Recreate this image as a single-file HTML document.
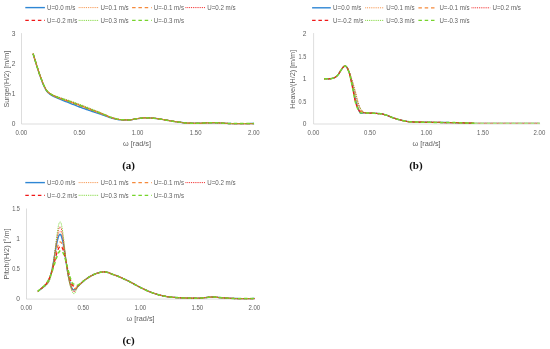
<!DOCTYPE html>
<html><head><meta charset="utf-8"><title>RAO figure</title>
<style>html,body{margin:0;padding:0;background:#fff}svg{display:block}</style></head>
<body>
<svg width="550" height="349" viewBox="0 0 550 349">
<rect width="550" height="349" fill="#fff"/>
<path d="M21.50,33.10V124.00H254.50" fill="none" stroke="#d4d4d4" stroke-width="0.8"/>
<text x="15.30" y="126.30" font-size="6.6" text-anchor="end" fill="#5e5e5e" font-family='"Liberation Sans", sans-serif'>0</text>
<text x="15.30" y="96.17" font-size="6.6" text-anchor="end" fill="#5e5e5e" font-family='"Liberation Sans", sans-serif'>1</text>
<text x="15.30" y="66.03" font-size="6.6" text-anchor="end" fill="#5e5e5e" font-family='"Liberation Sans", sans-serif'>2</text>
<text x="15.30" y="35.90" font-size="6.6" text-anchor="end" fill="#5e5e5e" font-family='"Liberation Sans", sans-serif'>3</text>
<text x="21.30" y="134.65" font-size="6.6" text-anchor="middle" fill="#5e5e5e" font-family='"Liberation Sans", sans-serif' textLength="11.7" lengthAdjust="spacingAndGlyphs">0.00</text>
<text x="79.42" y="134.65" font-size="6.6" text-anchor="middle" fill="#5e5e5e" font-family='"Liberation Sans", sans-serif' textLength="11.7" lengthAdjust="spacingAndGlyphs">0.50</text>
<text x="137.55" y="134.65" font-size="6.6" text-anchor="middle" fill="#5e5e5e" font-family='"Liberation Sans", sans-serif' textLength="11.7" lengthAdjust="spacingAndGlyphs">1.00</text>
<text x="195.68" y="134.65" font-size="6.6" text-anchor="middle" fill="#5e5e5e" font-family='"Liberation Sans", sans-serif' textLength="11.7" lengthAdjust="spacingAndGlyphs">1.50</text>
<text x="253.80" y="134.65" font-size="6.6" text-anchor="middle" fill="#5e5e5e" font-family='"Liberation Sans", sans-serif' textLength="11.7" lengthAdjust="spacingAndGlyphs">2.00</text>
<text x="137.00" y="146.30" font-size="6.9" text-anchor="middle" fill="#5e5e5e" font-family='"Liberation Sans", sans-serif' textLength="28.0" lengthAdjust="spacingAndGlyphs">ω [rad/s]</text>
<text transform="translate(8.80,79.10) rotate(-90)" font-size="6.9" text-anchor="middle" fill="#5e5e5e" font-family='"Liberation Sans", sans-serif' textLength="56.6" lengthAdjust="spacingAndGlyphs">Surge/(H/2) [m/m]</text>
<line x1="25.30" y1="7.60" x2="44.90" y2="7.60" stroke="#2e86d4" stroke-width="1.4"/>
<text x="47.00" y="10.05" font-size="6.9" text-anchor="start" fill="#5e5e5e" font-family='"Liberation Sans", sans-serif' textLength="28.3" lengthAdjust="spacingAndGlyphs">U=0.0 m/s</text>
<line x1="78.70" y1="7.60" x2="98.30" y2="7.60" stroke="#f58a3c" stroke-width="1.0" stroke-dasharray="0.9,0.95"/>
<text x="100.40" y="10.05" font-size="6.9" text-anchor="start" fill="#5e5e5e" font-family='"Liberation Sans", sans-serif' textLength="28.3" lengthAdjust="spacingAndGlyphs">U=0.1 m/s</text>
<line x1="132.10" y1="7.60" x2="151.70" y2="7.60" stroke="#f58a3c" stroke-width="1.15" stroke-dasharray="3.5,2.8"/>
<text x="153.80" y="10.05" font-size="6.9" text-anchor="start" fill="#5e5e5e" font-family='"Liberation Sans", sans-serif' textLength="30.2" lengthAdjust="spacingAndGlyphs">U=-0.1 m/s</text>
<line x1="185.50" y1="7.60" x2="205.10" y2="7.60" stroke="#f01818" stroke-width="1.0" stroke-dasharray="0.9,0.95"/>
<text x="207.20" y="10.05" font-size="6.9" text-anchor="start" fill="#5e5e5e" font-family='"Liberation Sans", sans-serif' textLength="28.3" lengthAdjust="spacingAndGlyphs">U=0.2 m/s</text>
<line x1="25.30" y1="20.40" x2="44.90" y2="20.40" stroke="#f01818" stroke-width="1.15" stroke-dasharray="3.5,2.8"/>
<text x="47.00" y="22.85" font-size="6.9" text-anchor="start" fill="#5e5e5e" font-family='"Liberation Sans", sans-serif' textLength="30.2" lengthAdjust="spacingAndGlyphs">U=-0.2 m/s</text>
<line x1="78.70" y1="20.40" x2="98.30" y2="20.40" stroke="#76d42c" stroke-width="1.0" stroke-dasharray="0.9,0.95"/>
<text x="100.40" y="22.85" font-size="6.9" text-anchor="start" fill="#5e5e5e" font-family='"Liberation Sans", sans-serif' textLength="28.3" lengthAdjust="spacingAndGlyphs">U=0.3 m/s</text>
<line x1="132.10" y1="20.40" x2="151.70" y2="20.40" stroke="#76d42c" stroke-width="1.15" stroke-dasharray="3.5,2.8"/>
<text x="153.80" y="22.85" font-size="6.9" text-anchor="start" fill="#5e5e5e" font-family='"Liberation Sans", sans-serif' textLength="30.2" lengthAdjust="spacingAndGlyphs">U=-0.3 m/s</text>
<path d="M33.1,53.9L34.3,57.8 35.5,61.7 36.6,65.4 37.8,69.1 38.9,72.6 40.1,76.0 41.3,79.3 42.4,82.4 43.6,85.2 44.8,87.6 45.9,89.9 47.1,91.6 48.2,92.8 49.4,93.8 50.6,94.6 51.7,95.4 52.9,96.0 54.0,96.6 55.2,97.2 56.4,97.7 57.5,98.2 58.7,98.7 59.9,99.2 61.0,99.7 62.2,100.1 63.3,100.6 64.5,101.0 65.7,101.5 66.8,101.9 68.0,102.4 69.2,102.8 70.3,103.3 71.5,103.8 72.6,104.3 73.8,104.7 75.0,105.2 76.1,105.6 77.3,106.1 78.5,106.5 79.6,107.0 80.8,107.4 81.9,107.8 83.1,108.3 84.3,108.7 85.4,109.1 86.6,109.5 87.8,109.9 88.9,110.3 90.1,110.7 91.2,111.1 92.4,111.5 93.6,111.9 94.7,112.3 95.9,112.7 97.1,113.1 98.2,113.4 99.4,113.8 100.5,114.2 101.7,114.6 102.9,115.0 104.0,115.4 105.2,115.8 106.4,116.3 107.5,116.7 108.7,117.2 109.8,117.6 111.0,117.9 112.2,118.3 113.3,118.5 114.5,118.8 115.7,119.1 116.8,119.4 118.0,119.6 119.1,119.8 120.3,119.8 121.5,119.9 122.6,119.9 123.8,120.0 125.0,120.0 126.1,120.0 127.3,120.0 128.4,120.0 129.6,120.0 130.8,119.8 131.9,119.7 133.1,119.4 134.3,119.2 135.4,119.0 136.6,118.8 137.7,118.6 138.9,118.5 140.1,118.3 141.2,118.2 142.4,118.0 143.6,117.9 144.7,117.9 145.9,117.8 147.0,117.8 148.2,117.9 149.4,117.9 150.5,118.0 151.7,118.1 152.9,118.2 154.0,118.3 155.2,118.4 156.3,118.5 157.5,118.7 158.7,118.9 159.8,119.0 161.0,119.2 162.2,119.4 163.3,119.6 164.5,119.8 165.6,120.0 166.8,120.2 168.0,120.4 169.1,120.6 170.3,120.8 171.5,121.0 172.6,121.2 173.8,121.4 174.9,121.6 176.1,121.7 177.3,121.9 178.4,122.0 179.6,122.2 180.8,122.3 181.9,122.5 183.1,122.7 184.2,122.8 185.4,122.9 186.6,123.0 187.7,123.1 188.9,123.2 190.1,123.2 191.2,123.3 192.4,123.3 193.5,123.3 194.7,123.3 195.9,123.3 197.0,123.3 198.2,123.3 199.4,123.3 200.5,123.3 201.7,123.2 202.8,123.1 204.0,123.0 205.2,122.9 206.3,122.8 207.5,122.8 208.7,122.8 209.8,122.7 211.0,122.7 212.1,122.7 213.3,122.7 214.5,122.6 215.6,122.7 216.8,122.7 218.0,122.8 219.1,122.9 220.3,123.0 221.4,123.1 222.6,123.2 223.8,123.3 224.9,123.3 226.1,123.4 227.3,123.4 228.4,123.5 229.6,123.5 230.7,123.5 231.9,123.6 233.1,123.6 234.2,123.6 235.4,123.6 236.6,123.6 237.7,123.6 238.9,123.6 240.0,123.6 241.2,123.6 242.4,123.6 243.5,123.6 244.7,123.6 245.9,123.6 247.0,123.6 248.2,123.6 249.3,123.6 250.5,123.5 251.7,123.5 252.8,123.5 254.0,123.5" fill="none" stroke="#2e86d4" stroke-width="1.4" stroke-linejoin="round"/>
<path d="M33.1,53.8L34.3,57.7 35.5,61.5 36.6,65.2 37.8,68.8 38.9,72.4 40.1,75.7 41.3,79.0 42.4,82.0 43.6,84.7 44.8,87.2 45.9,89.4 47.1,91.1 48.2,92.2 49.4,93.2 50.6,93.9 51.7,94.6 52.9,95.2 54.0,95.8 55.2,96.3 56.4,96.7 57.5,97.1 58.7,97.6 59.9,98.0 61.0,98.4 62.2,98.8 63.3,99.2 64.5,99.6 65.7,100.0 66.8,100.4 68.0,100.8 69.2,101.2 70.3,101.6 71.5,102.1 72.6,102.5 73.8,102.9 75.0,103.4 76.1,103.8 77.3,104.2 78.5,104.7 79.6,105.1 80.8,105.5 81.9,106.0 83.1,106.4 84.3,106.9 85.4,107.3 86.6,107.7 87.8,108.2 88.9,108.6 90.1,109.1 91.2,109.5 92.4,110.0 93.6,110.4 94.7,110.9 95.9,111.3 97.1,111.8 98.2,112.2 99.4,112.7 100.5,113.1 101.7,113.6 102.9,114.0 104.0,114.5 105.2,115.0 106.4,115.5 107.5,116.0 108.7,116.5 109.8,116.9 111.0,117.4 112.2,117.7 113.3,118.1 114.5,118.4 115.7,118.7 116.8,119.0 118.0,119.3 119.1,119.5 120.3,119.6 121.5,119.7 122.6,119.7 123.8,119.8 125.0,119.8 126.1,119.9 127.3,119.9 128.4,119.9 129.6,119.9 130.8,119.8 131.9,119.6 133.1,119.4 134.3,119.1 135.4,118.9 136.6,118.7 137.7,118.6 138.9,118.4 140.1,118.3 141.2,118.1 142.4,118.0 143.6,117.9 144.7,117.8 145.9,117.8 147.0,117.8 148.2,117.9 149.4,117.9 150.5,118.0 151.7,118.1 152.9,118.2 154.0,118.3 155.2,118.4 156.3,118.5 157.5,118.7 158.7,118.9 159.8,119.0 161.0,119.2 162.2,119.4 163.3,119.6 164.5,119.8 165.6,120.0 166.8,120.2 168.0,120.4 169.1,120.6 170.3,120.8 171.5,121.0 172.6,121.2 173.8,121.4 174.9,121.6 176.1,121.7 177.3,121.9 178.4,122.0 179.6,122.2 180.8,122.3 181.9,122.5 183.1,122.7 184.2,122.8 185.4,122.9 186.6,123.0 187.7,123.1 188.9,123.2 190.1,123.2 191.2,123.3 192.4,123.3 193.5,123.3 194.7,123.3 195.9,123.3 197.0,123.3 198.2,123.3 199.4,123.3 200.5,123.3 201.7,123.2 202.8,123.1 204.0,123.0 205.2,122.9 206.3,122.8 207.5,122.8 208.7,122.8 209.8,122.7 211.0,122.7 212.1,122.7 213.3,122.7 214.5,122.6 215.6,122.7 216.8,122.7 218.0,122.8 219.1,122.9 220.3,123.0 221.4,123.1 222.6,123.2 223.8,123.3 224.9,123.3 226.1,123.4 227.3,123.4 228.4,123.5 229.6,123.5 230.7,123.5 231.9,123.6 233.1,123.6 234.2,123.6 235.4,123.6 236.6,123.6 237.7,123.6 238.9,123.6 240.0,123.6 241.2,123.6 242.4,123.6 243.5,123.6 244.7,123.6 245.9,123.6 247.0,123.6 248.2,123.6 249.3,123.6 250.5,123.5 251.7,123.5 252.8,123.5 254.0,123.5" fill="none" stroke="#f58a3c" stroke-width="1.0" stroke-linejoin="round" stroke-dasharray="0.9,0.95"/>
<path d="M33.1,53.8L34.3,57.7 35.5,61.5 36.6,65.2 37.8,68.9 38.9,72.4 40.1,75.8 41.3,79.0 42.4,82.1 43.6,84.8 44.8,87.3 45.9,89.5 47.1,91.2 48.2,92.3 49.4,93.3 50.6,94.1 51.7,94.8 52.9,95.4 54.0,95.9 55.2,96.4 56.4,96.9 57.5,97.3 58.7,97.8 59.9,98.2 61.0,98.7 62.2,99.1 63.3,99.5 64.5,99.9 65.7,100.3 66.8,100.7 68.0,101.1 69.2,101.5 70.3,102.0 71.5,102.4 72.6,102.8 73.8,103.3 75.0,103.7 76.1,104.1 77.3,104.6 78.5,105.0 79.6,105.5 80.8,105.9 81.9,106.3 83.1,106.8 84.3,107.2 85.4,107.7 86.6,108.1 87.8,108.5 88.9,109.0 90.1,109.4 91.2,109.8 92.4,110.3 93.6,110.7 94.7,111.1 95.9,111.6 97.1,112.0 98.2,112.4 99.4,112.9 100.5,113.3 101.7,113.8 102.9,114.2 104.0,114.7 105.2,115.1 106.4,115.6 107.5,116.1 108.7,116.6 109.8,117.1 111.0,117.5 112.2,117.8 113.3,118.2 114.5,118.5 115.7,118.8 116.8,119.1 118.0,119.3 119.1,119.5 120.3,119.6 121.5,119.7 122.6,119.8 123.8,119.8 125.0,119.9 126.1,119.9 127.3,119.9 128.4,119.9 129.6,119.9 130.8,119.8 131.9,119.6 133.1,119.4 134.3,119.2 135.4,118.9 136.6,118.7 137.7,118.6 138.9,118.4 140.1,118.3 141.2,118.2 142.4,118.0 143.6,117.9 144.7,117.8 145.9,117.8 147.0,117.8 148.2,117.9 149.4,117.9 150.5,118.0 151.7,118.1 152.9,118.2 154.0,118.3 155.2,118.4 156.3,118.5 157.5,118.7 158.7,118.9 159.8,119.0 161.0,119.2 162.2,119.4 163.3,119.6 164.5,119.8 165.6,120.0 166.8,120.2 168.0,120.4 169.1,120.6 170.3,120.8 171.5,121.0 172.6,121.2 173.8,121.4 174.9,121.6 176.1,121.7 177.3,121.9 178.4,122.0 179.6,122.2 180.8,122.3 181.9,122.5 183.1,122.7 184.2,122.8 185.4,122.9 186.6,123.0 187.7,123.1 188.9,123.2 190.1,123.2 191.2,123.3 192.4,123.3 193.5,123.3 194.7,123.3 195.9,123.3 197.0,123.3 198.2,123.3 199.4,123.3 200.5,123.3 201.7,123.2 202.8,123.1 204.0,123.0 205.2,122.9 206.3,122.8 207.5,122.8 208.7,122.8 209.8,122.7 211.0,122.7 212.1,122.7 213.3,122.7 214.5,122.6 215.6,122.7 216.8,122.7 218.0,122.8 219.1,122.9 220.3,123.0 221.4,123.1 222.6,123.2 223.8,123.3 224.9,123.3 226.1,123.4 227.3,123.4 228.4,123.5 229.6,123.5 230.7,123.5 231.9,123.6 233.1,123.6 234.2,123.6 235.4,123.6 236.6,123.6 237.7,123.6 238.9,123.6 240.0,123.6 241.2,123.6 242.4,123.6 243.5,123.6 244.7,123.6 245.9,123.6 247.0,123.6 248.2,123.6 249.3,123.6 250.5,123.5 251.7,123.5 252.8,123.5 254.0,123.5" fill="none" stroke="#f58a3c" stroke-width="1.25" stroke-linejoin="round" stroke-dasharray="3.5,2.8" stroke-dashoffset="3.0"/>
<path d="M33.1,53.7L34.3,57.6 35.5,61.5 36.6,65.2 37.8,68.8 38.9,72.3 40.1,75.7 41.3,78.9 42.4,82.0 43.6,84.7 44.8,87.1 45.9,89.3 47.1,90.9 48.2,92.1 49.4,93.0 50.6,93.8 51.7,94.5 52.9,95.1 54.0,95.6 55.2,96.1 56.4,96.5 57.5,96.9 58.7,97.3 59.9,97.8 61.0,98.2 62.2,98.5 63.3,98.9 64.5,99.3 65.7,99.7 66.8,100.1 68.0,100.5 69.2,100.9 70.3,101.3 71.5,101.7 72.6,102.1 73.8,102.5 75.0,103.0 76.1,103.4 77.3,103.8 78.5,104.3 79.6,104.7 80.8,105.2 81.9,105.6 83.1,106.0 84.3,106.5 85.4,106.9 86.6,107.4 87.8,107.8 88.9,108.3 90.1,108.7 91.2,109.2 92.4,109.7 93.6,110.1 94.7,110.6 95.9,111.0 97.1,111.5 98.2,111.9 99.4,112.4 100.5,112.9 101.7,113.3 102.9,113.8 104.0,114.3 105.2,114.8 106.4,115.3 107.5,115.8 108.7,116.3 109.8,116.8 111.0,117.2 112.2,117.6 113.3,118.0 114.5,118.3 115.7,118.6 116.8,118.9 118.0,119.2 119.1,119.4 120.3,119.5 121.5,119.6 122.6,119.7 123.8,119.7 125.0,119.8 126.1,119.8 127.3,119.9 128.4,119.9 129.6,119.8 130.8,119.7 131.9,119.6 133.1,119.4 134.3,119.1 135.4,118.9 136.6,118.7 137.7,118.6 138.9,118.4 140.1,118.3 141.2,118.1 142.4,118.0 143.6,117.9 144.7,117.8 145.9,117.8 147.0,117.8 148.2,117.9 149.4,117.9 150.5,118.0 151.7,118.1 152.9,118.2 154.0,118.3 155.2,118.4 156.3,118.5 157.5,118.7 158.7,118.9 159.8,119.0 161.0,119.2 162.2,119.4 163.3,119.6 164.5,119.8 165.6,120.0 166.8,120.2 168.0,120.4 169.1,120.6 170.3,120.8 171.5,121.0 172.6,121.2 173.8,121.4 174.9,121.6 176.1,121.7 177.3,121.9 178.4,122.0 179.6,122.2 180.8,122.3 181.9,122.5 183.1,122.7 184.2,122.8 185.4,122.9 186.6,123.0 187.7,123.1 188.9,123.2 190.1,123.2 191.2,123.3 192.4,123.3 193.5,123.3 194.7,123.3 195.9,123.3 197.0,123.3 198.2,123.3 199.4,123.3 200.5,123.3 201.7,123.2 202.8,123.1 204.0,123.0 205.2,122.9 206.3,122.8 207.5,122.8 208.7,122.8 209.8,122.7 211.0,122.7 212.1,122.7 213.3,122.7 214.5,122.6 215.6,122.7 216.8,122.7 218.0,122.8 219.1,122.9 220.3,123.0 221.4,123.1 222.6,123.2 223.8,123.3 224.9,123.3 226.1,123.4 227.3,123.4 228.4,123.5 229.6,123.5 230.7,123.5 231.9,123.6 233.1,123.6 234.2,123.6 235.4,123.6 236.6,123.6 237.7,123.6 238.9,123.6 240.0,123.6 241.2,123.6 242.4,123.6 243.5,123.6 244.7,123.6 245.9,123.6 247.0,123.6 248.2,123.6 249.3,123.6 250.5,123.5 251.7,123.5 252.8,123.5 254.0,123.5" fill="none" stroke="#f01818" stroke-width="1.0" stroke-linejoin="round" stroke-dasharray="0.9,0.95"/>
<path d="M33.1,53.8L34.3,57.7 35.5,61.5 36.6,65.2 37.8,68.9 38.9,72.4 40.1,75.8 41.3,79.0 42.4,82.1 43.6,84.8 44.8,87.3 45.9,89.5 47.1,91.2 48.2,92.3 49.4,93.3 50.6,94.1 51.7,94.8 52.9,95.4 54.0,95.9 55.2,96.4 56.4,96.9 57.5,97.3 58.7,97.8 59.9,98.2 61.0,98.7 62.2,99.1 63.3,99.5 64.5,99.9 65.7,100.3 66.8,100.7 68.0,101.1 69.2,101.5 70.3,102.0 71.5,102.4 72.6,102.8 73.8,103.3 75.0,103.7 76.1,104.1 77.3,104.6 78.5,105.0 79.6,105.5 80.8,105.9 81.9,106.3 83.1,106.8 84.3,107.2 85.4,107.7 86.6,108.1 87.8,108.5 88.9,109.0 90.1,109.4 91.2,109.8 92.4,110.3 93.6,110.7 94.7,111.1 95.9,111.6 97.1,112.0 98.2,112.4 99.4,112.9 100.5,113.3 101.7,113.8 102.9,114.2 104.0,114.7 105.2,115.1 106.4,115.6 107.5,116.1 108.7,116.6 109.8,117.1 111.0,117.5 112.2,117.8 113.3,118.2 114.5,118.5 115.7,118.8 116.8,119.1 118.0,119.3 119.1,119.5 120.3,119.6 121.5,119.7 122.6,119.8 123.8,119.8 125.0,119.9 126.1,119.9 127.3,119.9 128.4,119.9 129.6,119.9 130.8,119.8 131.9,119.6 133.1,119.4 134.3,119.2 135.4,118.9 136.6,118.7 137.7,118.6 138.9,118.4 140.1,118.3 141.2,118.2 142.4,118.0 143.6,117.9 144.7,117.8 145.9,117.8 147.0,117.8 148.2,117.9 149.4,117.9 150.5,118.0 151.7,118.1 152.9,118.2 154.0,118.3 155.2,118.4 156.3,118.5 157.5,118.7 158.7,118.9 159.8,119.0 161.0,119.2 162.2,119.4 163.3,119.6 164.5,119.8 165.6,120.0 166.8,120.2 168.0,120.4 169.1,120.6 170.3,120.8 171.5,121.0 172.6,121.2 173.8,121.4 174.9,121.6 176.1,121.7 177.3,121.9 178.4,122.0 179.6,122.2 180.8,122.3 181.9,122.5 183.1,122.7 184.2,122.8 185.4,122.9 186.6,123.0 187.7,123.1 188.9,123.2 190.1,123.2 191.2,123.3 192.4,123.3 193.5,123.3 194.7,123.3 195.9,123.3 197.0,123.3 198.2,123.3 199.4,123.3 200.5,123.3 201.7,123.2 202.8,123.1 204.0,123.0 205.2,122.9 206.3,122.8 207.5,122.8 208.7,122.8 209.8,122.7 211.0,122.7 212.1,122.7 213.3,122.7 214.5,122.6 215.6,122.7 216.8,122.7 218.0,122.8 219.1,122.9 220.3,123.0 221.4,123.1 222.6,123.2 223.8,123.3 224.9,123.3 226.1,123.4 227.3,123.4 228.4,123.5 229.6,123.5 230.7,123.5 231.9,123.6 233.1,123.6 234.2,123.6 235.4,123.6 236.6,123.6 237.7,123.6 238.9,123.6 240.0,123.6 241.2,123.6 242.4,123.6 243.5,123.6 244.7,123.6 245.9,123.6 247.0,123.6 248.2,123.6 249.3,123.6 250.5,123.5 251.7,123.5 252.8,123.5 254.0,123.5" fill="none" stroke="#f01818" stroke-width="1.25" stroke-linejoin="round" stroke-dasharray="3.5,2.8" stroke-dashoffset="0"/>
<path d="M33.1,53.7L34.3,57.6 35.5,61.4 36.6,65.1 37.8,68.7 38.9,72.3 40.1,75.6 41.3,78.8 42.4,81.9 43.6,84.6 44.8,87.0 45.9,89.2 47.1,90.8 48.2,91.9 49.4,92.9 50.6,93.6 51.7,94.3 52.9,94.9 54.0,95.4 55.2,95.8 56.4,96.3 57.5,96.7 58.7,97.1 59.9,97.5 61.0,97.9 62.2,98.2 63.3,98.6 64.5,99.0 65.7,99.3 66.8,99.7 68.0,100.1 69.2,100.5 70.3,100.9 71.5,101.3 72.6,101.7 73.8,102.1 75.0,102.5 76.1,103.0 77.3,103.4 78.5,103.8 79.6,104.3 80.8,104.7 81.9,105.1 83.1,105.6 84.3,106.0 85.4,106.5 86.6,107.0 87.8,107.4 88.9,107.9 90.1,108.3 91.2,108.8 92.4,109.3 93.6,109.8 94.7,110.2 95.9,110.7 97.1,111.2 98.2,111.6 99.4,112.1 100.5,112.6 101.7,113.1 102.9,113.6 104.0,114.1 105.2,114.6 106.4,115.1 107.5,115.7 108.7,116.2 109.8,116.6 111.0,117.1 112.2,117.5 113.3,117.8 114.5,118.2 115.7,118.5 116.8,118.9 118.0,119.1 119.1,119.3 120.3,119.5 121.5,119.6 122.6,119.6 123.8,119.7 125.0,119.8 126.1,119.8 127.3,119.8 128.4,119.9 129.6,119.8 130.8,119.7 131.9,119.5 133.1,119.3 134.3,119.1 135.4,118.9 136.6,118.7 137.7,118.6 138.9,118.4 140.1,118.3 141.2,118.1 142.4,118.0 143.6,117.9 144.7,117.8 145.9,117.8 147.0,117.8 148.2,117.9 149.4,117.9 150.5,118.0 151.7,118.1 152.9,118.2 154.0,118.3 155.2,118.4 156.3,118.5 157.5,118.7 158.7,118.9 159.8,119.0 161.0,119.2 162.2,119.4 163.3,119.6 164.5,119.8 165.6,120.0 166.8,120.2 168.0,120.4 169.1,120.6 170.3,120.8 171.5,121.0 172.6,121.2 173.8,121.4 174.9,121.6 176.1,121.7 177.3,121.9 178.4,122.0 179.6,122.2 180.8,122.3 181.9,122.5 183.1,122.7 184.2,122.8 185.4,122.9 186.6,123.0 187.7,123.1 188.9,123.2 190.1,123.2 191.2,123.3 192.4,123.3 193.5,123.3 194.7,123.3 195.9,123.3 197.0,123.3 198.2,123.3 199.4,123.3 200.5,123.3 201.7,123.2 202.8,123.1 204.0,123.0 205.2,122.9 206.3,122.8 207.5,122.8 208.7,122.8 209.8,122.7 211.0,122.7 212.1,122.7 213.3,122.7 214.5,122.6 215.6,122.7 216.8,122.7 218.0,122.8 219.1,122.9 220.3,123.0 221.4,123.1 222.6,123.2 223.8,123.3 224.9,123.3 226.1,123.4 227.3,123.4 228.4,123.5 229.6,123.5 230.7,123.5 231.9,123.6 233.1,123.6 234.2,123.6 235.4,123.6 236.6,123.6 237.7,123.6 238.9,123.6 240.0,123.6 241.2,123.6 242.4,123.6 243.5,123.6 244.7,123.6 245.9,123.6 247.0,123.6 248.2,123.6 249.3,123.6 250.5,123.5 251.7,123.5 252.8,123.5 254.0,123.5" fill="none" stroke="#76d42c" stroke-width="1.0" stroke-linejoin="round" stroke-dasharray="0.9,0.95"/>
<path d="M33.1,53.8L34.3,57.7 35.5,61.5 36.6,65.2 37.8,68.9 38.9,72.4 40.1,75.8 41.3,79.0 42.4,82.1 43.6,84.8 44.8,87.2 45.9,89.5 47.1,91.1 48.2,92.3 49.4,93.2 50.6,94.0 51.7,94.7 52.9,95.3 54.0,95.9 55.2,96.4 56.4,96.8 57.5,97.3 58.7,97.7 59.9,98.1 61.0,98.6 62.2,99.0 63.3,99.4 64.5,99.8 65.7,100.2 66.8,100.6 68.0,101.0 69.2,101.4 70.3,101.8 71.5,102.3 72.6,102.7 73.8,103.1 75.0,103.6 76.1,104.0 77.3,104.4 78.5,104.9 79.6,105.3 80.8,105.8 81.9,106.2 83.1,106.6 84.3,107.1 85.4,107.5 86.6,107.9 87.8,108.4 88.9,108.8 90.1,109.3 91.2,109.7 92.4,110.1 93.6,110.6 94.7,111.0 95.9,111.5 97.1,111.9 98.2,112.3 99.4,112.8 100.5,113.2 101.7,113.7 102.9,114.1 104.0,114.6 105.2,115.1 106.4,115.6 107.5,116.1 108.7,116.6 109.8,117.0 111.0,117.4 112.2,117.8 113.3,118.1 114.5,118.4 115.7,118.8 116.8,119.1 118.0,119.3 119.1,119.5 120.3,119.6 121.5,119.7 122.6,119.7 123.8,119.8 125.0,119.9 126.1,119.9 127.3,119.9 128.4,119.9 129.6,119.9 130.8,119.8 131.9,119.6 133.1,119.4 134.3,119.2 135.4,118.9 136.6,118.7 137.7,118.6 138.9,118.4 140.1,118.3 141.2,118.1 142.4,118.0 143.6,117.9 144.7,117.8 145.9,117.8 147.0,117.8 148.2,117.9 149.4,117.9 150.5,118.0 151.7,118.1 152.9,118.2 154.0,118.3 155.2,118.4 156.3,118.5 157.5,118.7 158.7,118.9 159.8,119.0 161.0,119.2 162.2,119.4 163.3,119.6 164.5,119.8 165.6,120.0 166.8,120.2 168.0,120.4 169.1,120.6 170.3,120.8 171.5,121.0 172.6,121.2 173.8,121.4 174.9,121.6 176.1,121.7 177.3,121.9 178.4,122.0 179.6,122.2 180.8,122.3 181.9,122.5 183.1,122.7 184.2,122.8 185.4,122.9 186.6,123.0 187.7,123.1 188.9,123.2 190.1,123.2 191.2,123.3 192.4,123.3 193.5,123.3 194.7,123.3 195.9,123.3 197.0,123.3 198.2,123.3 199.4,123.3 200.5,123.3 201.7,123.2 202.8,123.1 204.0,123.0 205.2,122.9 206.3,122.8 207.5,122.8 208.7,122.8 209.8,122.7 211.0,122.7 212.1,122.7 213.3,122.7 214.5,122.6 215.6,122.7 216.8,122.7 218.0,122.8 219.1,122.9 220.3,123.0 221.4,123.1 222.6,123.2 223.8,123.3 224.9,123.3 226.1,123.4 227.3,123.4 228.4,123.5 229.6,123.5 230.7,123.5 231.9,123.6 233.1,123.6 234.2,123.6 235.4,123.6 236.6,123.6 237.7,123.6 238.9,123.6 240.0,123.6 241.2,123.6 242.4,123.6 243.5,123.6 244.7,123.6 245.9,123.6 247.0,123.6 248.2,123.6 249.3,123.6 250.5,123.5 251.7,123.5 252.8,123.5 254.0,123.5" fill="none" stroke="#76d42c" stroke-width="1.5" stroke-linejoin="round" stroke-dasharray="3.5,2.8" stroke-dashoffset="0"/>
<text x="128.60" y="169.20" font-size="11" text-anchor="middle" fill="#111" font-family='"Liberation Serif", serif' font-weight="bold">(a)</text>
<path d="M313.60,33.10V124.00H540.10" fill="none" stroke="#d4d4d4" stroke-width="0.8"/>
<text x="306.30" y="126.30" font-size="6.6" text-anchor="end" fill="#5e5e5e" font-family='"Liberation Sans", sans-serif'>0</text>
<text x="306.30" y="103.70" font-size="6.6" text-anchor="end" fill="#5e5e5e" font-family='"Liberation Sans", sans-serif' textLength="7.7" lengthAdjust="spacingAndGlyphs">0.5</text>
<text x="306.30" y="81.10" font-size="6.6" text-anchor="end" fill="#5e5e5e" font-family='"Liberation Sans", sans-serif'>1</text>
<text x="306.30" y="58.50" font-size="6.6" text-anchor="end" fill="#5e5e5e" font-family='"Liberation Sans", sans-serif' textLength="7.7" lengthAdjust="spacingAndGlyphs">1.5</text>
<text x="306.30" y="35.90" font-size="6.6" text-anchor="end" fill="#5e5e5e" font-family='"Liberation Sans", sans-serif'>2</text>
<text x="313.40" y="134.65" font-size="6.6" text-anchor="middle" fill="#5e5e5e" font-family='"Liberation Sans", sans-serif' textLength="11.7" lengthAdjust="spacingAndGlyphs">0.00</text>
<text x="369.90" y="134.65" font-size="6.6" text-anchor="middle" fill="#5e5e5e" font-family='"Liberation Sans", sans-serif' textLength="11.7" lengthAdjust="spacingAndGlyphs">0.50</text>
<text x="426.40" y="134.65" font-size="6.6" text-anchor="middle" fill="#5e5e5e" font-family='"Liberation Sans", sans-serif' textLength="11.7" lengthAdjust="spacingAndGlyphs">1.00</text>
<text x="482.90" y="134.65" font-size="6.6" text-anchor="middle" fill="#5e5e5e" font-family='"Liberation Sans", sans-serif' textLength="11.7" lengthAdjust="spacingAndGlyphs">1.50</text>
<text x="539.40" y="134.65" font-size="6.6" text-anchor="middle" fill="#5e5e5e" font-family='"Liberation Sans", sans-serif' textLength="11.7" lengthAdjust="spacingAndGlyphs">2.00</text>
<text x="426.60" y="146.30" font-size="6.9" text-anchor="middle" fill="#5e5e5e" font-family='"Liberation Sans", sans-serif' textLength="28.0" lengthAdjust="spacingAndGlyphs">ω [rad/s]</text>
<text transform="translate(294.50,79.30) rotate(-90)" font-size="6.9" text-anchor="middle" fill="#5e5e5e" font-family='"Liberation Sans", sans-serif' textLength="58.8" lengthAdjust="spacingAndGlyphs">Heave/(H/2) [m/m]</text>
<line x1="312.10" y1="7.80" x2="330.80" y2="7.80" stroke="#2e86d4" stroke-width="1.4"/>
<text x="333.10" y="10.25" font-size="6.9" text-anchor="start" fill="#5e5e5e" font-family='"Liberation Sans", sans-serif' textLength="28.3" lengthAdjust="spacingAndGlyphs">U=0.0 m/s</text>
<line x1="365.25" y1="7.80" x2="383.95" y2="7.80" stroke="#f58a3c" stroke-width="1.0" stroke-dasharray="0.9,0.95"/>
<text x="386.25" y="10.25" font-size="6.9" text-anchor="start" fill="#5e5e5e" font-family='"Liberation Sans", sans-serif' textLength="28.3" lengthAdjust="spacingAndGlyphs">U=0.1 m/s</text>
<line x1="418.40" y1="7.80" x2="437.10" y2="7.80" stroke="#f58a3c" stroke-width="1.15" stroke-dasharray="3.5,2.8"/>
<text x="439.40" y="10.25" font-size="6.9" text-anchor="start" fill="#5e5e5e" font-family='"Liberation Sans", sans-serif' textLength="30.2" lengthAdjust="spacingAndGlyphs">U=-0.1 m/s</text>
<line x1="471.55" y1="7.80" x2="490.25" y2="7.80" stroke="#f01818" stroke-width="1.0" stroke-dasharray="0.9,0.95"/>
<text x="492.55" y="10.25" font-size="6.9" text-anchor="start" fill="#5e5e5e" font-family='"Liberation Sans", sans-serif' textLength="28.3" lengthAdjust="spacingAndGlyphs">U=0.2 m/s</text>
<line x1="312.10" y1="20.40" x2="330.80" y2="20.40" stroke="#f01818" stroke-width="1.15" stroke-dasharray="3.5,2.8"/>
<text x="333.10" y="22.85" font-size="6.9" text-anchor="start" fill="#5e5e5e" font-family='"Liberation Sans", sans-serif' textLength="30.2" lengthAdjust="spacingAndGlyphs">U=-0.2 m/s</text>
<line x1="365.25" y1="20.40" x2="383.95" y2="20.40" stroke="#76d42c" stroke-width="1.0" stroke-dasharray="0.9,0.95"/>
<text x="386.25" y="22.85" font-size="6.9" text-anchor="start" fill="#5e5e5e" font-family='"Liberation Sans", sans-serif' textLength="28.3" lengthAdjust="spacingAndGlyphs">U=0.3 m/s</text>
<line x1="418.40" y1="20.40" x2="437.10" y2="20.40" stroke="#76d42c" stroke-width="1.15" stroke-dasharray="3.5,2.8"/>
<text x="439.40" y="22.85" font-size="6.9" text-anchor="start" fill="#5e5e5e" font-family='"Liberation Sans", sans-serif' textLength="30.2" lengthAdjust="spacingAndGlyphs">U=-0.3 m/s</text>
<path d="M324.3,78.8L324.9,78.8 325.5,78.8 326.0,78.8 326.6,78.8 327.2,78.8 327.7,78.8 328.3,78.8 328.9,78.8 329.4,78.7 330.0,78.7 330.6,78.7 331.1,78.6 331.7,78.5 332.2,78.4 332.8,78.2 333.4,78.1 333.9,77.9 334.5,77.7 335.1,77.4 335.6,77.0 336.2,76.6 336.8,76.1 337.3,75.6 337.9,75.0 338.5,74.2 339.0,73.4 339.6,72.4 340.2,71.5 340.7,70.7 341.3,69.8 341.9,68.9 342.4,68.1 343.0,67.4 343.5,66.8 344.1,66.4 344.7,66.1 345.2,65.9 345.8,66.2 346.4,66.8 346.9,67.5 347.5,68.4 348.1,69.6 348.6,70.9 349.2,72.5 349.8,74.3 350.3,76.4 350.9,78.7 351.5,81.1 352.0,83.5 352.6,86.2 353.2,88.8 353.7,91.5 354.3,94.1 354.8,96.7 355.4,99.2 356.0,101.4 356.5,103.4 357.1,105.2 357.7,107.0 358.2,108.6 358.8,110.0 359.4,111.4 359.9,112.5 360.5,113.2 361.1,113.4 361.6,113.4 362.2,113.2 362.8,113.0 363.3,112.8 363.9,112.7 364.5,112.7 365.0,112.7 365.6,112.8 366.1,112.8 366.7,112.9 367.3,112.9 367.8,113.0 368.4,113.0 369.0,113.1 369.5,113.1 370.1,113.2 370.7,113.2 371.2,113.2 371.8,113.2 372.4,113.2 372.9,113.3 373.5,113.3 374.1,113.3 374.6,113.3 375.2,113.4 375.8,113.4 376.3,113.4 376.9,113.4 377.4,113.5 378.0,113.5 378.6,113.6 379.1,113.6 379.7,113.6 380.3,113.7 380.8,113.8 381.4,113.8 382.0,113.9 382.5,114.0 383.1,114.2 383.7,114.3 384.2,114.5 384.8,114.7 385.4,114.8 385.9,115.0 386.5,115.2 387.1,115.4 387.6,115.6 388.2,115.8 388.7,116.0 389.3,116.3 389.9,116.5 390.4,116.8 391.0,117.0 391.6,117.2 392.1,117.5 392.7,117.7 393.3,117.9 393.8,118.1 394.4,118.3 395.0,118.4 395.5,118.6 396.1,118.8 396.7,119.0 397.2,119.2 397.8,119.3 398.4,119.5 398.9,119.6 399.5,119.8 400.0,119.9 400.6,120.1 401.2,120.2 401.7,120.4 402.3,120.5 402.9,120.6 403.4,120.7 404.0,120.8 404.6,120.9 405.1,121.1 405.7,121.2 406.3,121.3 406.8,121.4 407.4,121.5 408.0,121.6 408.5,121.6 409.1,121.7 409.7,121.7 410.2,121.8 410.8,121.8 411.3,121.8 411.9,121.9 412.5,121.9 413.0,121.9 413.6,122.0 414.2,122.0 414.7,122.0 415.3,122.0 415.9,122.1 416.4,122.1 417.0,122.1 417.6,122.1 418.1,122.1 418.7,122.1 419.3,122.2 419.8,122.2 420.4,122.2 421.0,122.2 421.5,122.2 422.1,122.2 422.6,122.2 423.2,122.2 423.8,122.2 424.3,122.3 424.9,122.3 425.5,122.3 426.0,122.3 426.6,122.3 427.2,122.3 427.7,122.3 428.3,122.3 428.9,122.3 429.4,122.3 430.0,122.3 430.6,122.3 431.1,122.3 431.7,122.3 432.3,122.4 432.8,122.4 433.4,122.4 433.9,122.4 434.5,122.4 435.1,122.4 435.6,122.4 436.2,122.4 436.8,122.4 437.3,122.4 437.9,122.4 438.5,122.4 439.0,122.4 439.6,122.4 440.2,122.4 440.7,122.5 441.3,122.5 441.9,122.5 442.4,122.5 443.0,122.5 443.6,122.5 444.1,122.5 444.7,122.5 445.2,122.5 445.8,122.5 446.4,122.5 446.9,122.5 447.5,122.5 448.1,122.5 448.6,122.5 449.2,122.6 449.8,122.6 450.3,122.6 450.9,122.6 451.5,122.6 452.0,122.6 452.6,122.6 453.2,122.6 453.7,122.6 454.3,122.6 454.9,122.6 455.4,122.7 456.0,122.7 456.5,122.7 457.1,122.7 457.7,122.7 458.2,122.7 458.8,122.8 459.4,122.8 459.9,122.8 460.5,122.8 461.1,122.8 461.6,122.9 462.2,122.9 462.8,122.9 463.3,122.9 463.9,122.9 464.5,123.0 465.0,123.0 465.6,123.0 466.2,123.0 466.7,123.0 467.3,123.0 467.8,123.1 468.4,123.1 469.0,123.1 469.5,123.1 470.1,123.1 470.7,123.2 471.2,123.2 471.8,123.2 472.4,123.2 472.9,123.2 473.5,123.3 474.1,123.3" fill="none" stroke="#2e86d4" stroke-width="1.4" stroke-linejoin="round"/>
<path d="M324.3,78.8L324.9,78.8 325.5,78.8 326.0,78.8 326.6,78.8 327.2,78.8 327.7,78.8 328.3,78.8 328.9,78.8 329.4,78.7 330.0,78.7 330.6,78.7 331.1,78.6 331.7,78.5 332.2,78.4 332.8,78.2 333.4,78.1 333.9,77.9 334.5,77.7 335.1,77.4 335.6,77.0 336.2,76.6 336.8,76.1 337.3,75.6 337.9,75.0 338.5,74.2 339.0,73.4 339.6,72.4 340.2,71.5 340.7,70.7 341.3,69.8 341.9,68.9 342.4,68.1 343.0,67.4 343.5,66.8 344.1,66.4 344.7,66.1 345.2,65.9 345.8,66.2 346.4,66.7 346.9,67.5 347.5,68.3 348.1,69.4 348.6,70.7 349.2,72.1 349.8,73.7 350.3,75.5 350.9,77.6 351.5,79.7 352.0,81.7 352.6,83.9 353.2,86.2 353.7,88.5 354.3,90.8 354.8,93.1 355.4,95.5 356.0,97.9 356.5,100.2 357.1,102.2 357.7,104.0 358.2,105.7 358.8,107.2 359.4,108.4 359.9,109.4 360.5,110.3 361.1,110.9 361.6,111.3 362.2,111.7 362.8,112.0 363.3,112.3 363.9,112.4 364.5,112.5 365.0,112.6 365.6,112.7 366.1,112.8 366.7,112.9 367.3,112.9 367.8,113.0 368.4,113.0 369.0,113.1 369.5,113.1 370.1,113.2 370.7,113.2 371.2,113.2 371.8,113.2 372.4,113.2 372.9,113.3 373.5,113.3 374.1,113.3 374.6,113.3 375.2,113.4 375.8,113.4 376.3,113.4 376.9,113.4 377.4,113.5 378.0,113.5 378.6,113.6 379.1,113.6 379.7,113.6 380.3,113.7 380.8,113.8 381.4,113.8 382.0,113.9 382.5,114.0 383.1,114.2 383.7,114.3 384.2,114.5 384.8,114.7 385.4,114.8 385.9,115.0 386.5,115.2 387.1,115.4 387.6,115.6 388.2,115.8 388.7,116.0 389.3,116.3 389.9,116.5 390.4,116.8 391.0,117.0 391.6,117.2 392.1,117.5 392.7,117.7 393.3,117.9 393.8,118.1 394.4,118.3 395.0,118.4 395.5,118.6 396.1,118.8 396.7,119.0 397.2,119.2 397.8,119.3 398.4,119.5 398.9,119.6 399.5,119.8 400.0,119.9 400.6,120.1 401.2,120.2 401.7,120.4 402.3,120.5 402.9,120.6 403.4,120.7 404.0,120.8 404.6,120.9 405.1,121.1 405.7,121.2 406.3,121.3 406.8,121.4 407.4,121.5 408.0,121.6 408.5,121.6 409.1,121.7 409.7,121.7 410.2,121.8 410.8,121.8 411.3,121.8 411.9,121.9 412.5,121.9 413.0,121.9 413.6,122.0 414.2,122.0 414.7,122.0 415.3,122.0 415.9,122.1 416.4,122.1 417.0,122.1 417.6,122.1 418.1,122.1 418.7,122.1 419.3,122.2 419.8,122.2 420.4,122.2 421.0,122.2 421.5,122.2 422.1,122.2 422.6,122.2 423.2,122.2 423.8,122.2 424.3,122.3 424.9,122.3 425.5,122.3 426.0,122.3 426.6,122.3 427.2,122.3 427.7,122.3 428.3,122.3 428.9,122.3 429.4,122.3 430.0,122.3 430.6,122.3 431.1,122.3 431.7,122.3 432.3,122.4 432.8,122.4 433.4,122.4 433.9,122.4 434.5,122.4 435.1,122.4 435.6,122.4 436.2,122.4 436.8,122.4 437.3,122.4 437.9,122.4 438.5,122.4 439.0,122.4 439.6,122.4 440.2,122.4 440.7,122.5 441.3,122.5 441.9,122.5 442.4,122.5 443.0,122.5 443.6,122.5 444.1,122.5 444.7,122.5 445.2,122.5 445.8,122.5 446.4,122.5 446.9,122.5 447.5,122.5 448.1,122.5 448.6,122.5 449.2,122.6 449.8,122.6 450.3,122.6 450.9,122.6 451.5,122.6 452.0,122.6 452.6,122.6 453.2,122.6 453.7,122.6 454.3,122.6 454.9,122.6 455.4,122.7 456.0,122.7 456.5,122.7 457.1,122.7 457.7,122.7 458.2,122.7 458.8,122.8 459.4,122.8 459.9,122.8 460.5,122.8 461.1,122.8 461.6,122.9 462.2,122.9 462.8,122.9 463.3,122.9 463.9,122.9 464.5,123.0 465.0,123.0 465.6,123.0 466.2,123.0 466.7,123.0 467.3,123.0 467.8,123.1 468.4,123.1 469.0,123.1 469.5,123.1 470.1,123.1 470.7,123.2 471.2,123.2 471.8,123.2 472.4,123.2 472.9,123.2 473.5,123.3 474.1,123.3" fill="none" stroke="#f58a3c" stroke-width="1.0" stroke-linejoin="round" stroke-dasharray="0.9,0.95"/>
<path d="M324.3,78.8L324.9,78.8 325.5,78.8 326.0,78.8 326.6,78.8 327.2,78.8 327.7,78.8 328.3,78.8 328.9,78.8 329.4,78.7 330.0,78.7 330.6,78.7 331.1,78.6 331.7,78.5 332.2,78.4 332.8,78.2 333.4,78.1 333.9,77.9 334.5,77.7 335.1,77.4 335.6,77.0 336.2,76.6 336.8,76.1 337.3,75.6 337.9,75.0 338.5,74.2 339.0,73.4 339.6,72.4 340.2,71.5 340.7,70.7 341.3,69.8 341.9,68.9 342.4,68.1 343.0,67.4 343.5,66.8 344.1,66.4 344.7,66.1 345.2,65.9 345.8,66.2 346.4,66.8 346.9,67.5 347.5,68.4 348.1,69.6 348.6,71.1 349.2,72.7 349.8,74.6 350.3,76.8 350.9,79.3 351.5,81.8 352.0,84.5 352.6,87.3 353.2,90.1 353.7,92.9 354.3,95.7 354.8,98.5 355.4,100.9 356.0,102.9 356.5,104.7 357.1,106.2 357.7,107.5 358.2,108.5 358.8,109.4 359.4,110.2 359.9,110.7 360.5,111.1 361.1,111.5 361.6,111.7 362.2,112.0 362.8,112.2 363.3,112.4 363.9,112.5 364.5,112.6 365.0,112.7 365.6,112.8 366.1,112.8 366.7,112.9 367.3,112.9 367.8,113.0 368.4,113.0 369.0,113.1 369.5,113.1 370.1,113.2 370.7,113.2 371.2,113.2 371.8,113.2 372.4,113.2 372.9,113.3 373.5,113.3 374.1,113.3 374.6,113.3 375.2,113.4 375.8,113.4 376.3,113.4 376.9,113.4 377.4,113.5 378.0,113.5 378.6,113.6 379.1,113.6 379.7,113.6 380.3,113.7 380.8,113.8 381.4,113.8 382.0,113.9 382.5,114.0 383.1,114.2 383.7,114.3 384.2,114.5 384.8,114.7 385.4,114.8 385.9,115.0 386.5,115.2 387.1,115.4 387.6,115.6 388.2,115.8 388.7,116.0 389.3,116.3 389.9,116.5 390.4,116.8 391.0,117.0 391.6,117.2 392.1,117.5 392.7,117.7 393.3,117.9 393.8,118.1 394.4,118.3 395.0,118.4 395.5,118.6 396.1,118.8 396.7,119.0 397.2,119.2 397.8,119.3 398.4,119.5 398.9,119.6 399.5,119.8 400.0,119.9 400.6,120.1 401.2,120.2 401.7,120.4 402.3,120.5 402.9,120.6 403.4,120.7 404.0,120.8 404.6,120.9 405.1,121.1 405.7,121.2 406.3,121.3 406.8,121.4 407.4,121.5 408.0,121.6 408.5,121.6 409.1,121.7 409.7,121.7 410.2,121.8 410.8,121.8 411.3,121.8 411.9,121.9 412.5,121.9 413.0,121.9 413.6,122.0 414.2,122.0 414.7,122.0 415.3,122.0 415.9,122.1 416.4,122.1 417.0,122.1 417.6,122.1 418.1,122.1 418.7,122.1 419.3,122.2 419.8,122.2 420.4,122.2 421.0,122.2 421.5,122.2 422.1,122.2 422.6,122.2 423.2,122.2 423.8,122.2 424.3,122.3 424.9,122.3 425.5,122.3 426.0,122.3 426.6,122.3 427.2,122.3 427.7,122.3 428.3,122.3 428.9,122.3 429.4,122.3 430.0,122.3 430.6,122.3 431.1,122.3 431.7,122.3 432.3,122.4 432.8,122.4 433.4,122.4 433.9,122.4 434.5,122.4 435.1,122.4 435.6,122.4 436.2,122.4 436.8,122.4 437.3,122.4 437.9,122.4 438.5,122.4 439.0,122.4 439.6,122.4 440.2,122.4 440.7,122.5 441.3,122.5 441.9,122.5 442.4,122.5 443.0,122.5 443.6,122.5 444.1,122.5 444.7,122.5 445.2,122.5 445.8,122.5 446.4,122.5 446.9,122.5 447.5,122.5 448.1,122.5 448.6,122.5 449.2,122.6 449.8,122.6 450.3,122.6 450.9,122.6 451.5,122.6 452.0,122.6 452.6,122.6 453.2,122.6 453.7,122.6 454.3,122.6 454.9,122.6 455.4,122.7 456.0,122.7 456.5,122.7 457.1,122.7 457.7,122.7 458.2,122.7 458.8,122.8 459.4,122.8 459.9,122.8 460.5,122.8 461.1,122.8 461.6,122.9 462.2,122.9 462.8,122.9 463.3,122.9 463.9,122.9 464.5,123.0 465.0,123.0 465.6,123.0 466.2,123.0 466.7,123.0 467.3,123.0 467.8,123.1 468.4,123.1 469.0,123.1 469.5,123.1 470.1,123.1 470.7,123.2 471.2,123.2 471.8,123.2 472.4,123.2 472.9,123.2 473.5,123.3 474.1,123.3" fill="none" stroke="#f58a3c" stroke-width="1.25" stroke-linejoin="round" stroke-dasharray="3.5,2.8" stroke-dashoffset="1.5"/>
<path d="M324.3,78.8L324.9,78.8 325.5,78.8 326.0,78.8 326.6,78.8 327.2,78.8 327.7,78.8 328.3,78.8 328.9,78.8 329.4,78.7 330.0,78.7 330.6,78.7 331.1,78.6 331.7,78.5 332.2,78.4 332.8,78.2 333.4,78.1 333.9,77.9 334.5,77.7 335.1,77.4 335.6,77.0 336.2,76.6 336.8,76.1 337.3,75.6 337.9,75.0 338.5,74.2 339.0,73.4 339.6,72.4 340.2,71.5 340.7,70.7 341.3,69.8 341.9,68.9 342.4,68.1 343.0,67.4 343.5,66.8 344.1,66.4 344.7,66.1 345.2,65.9 345.8,66.1 346.4,66.7 346.9,67.4 347.5,68.2 348.1,69.2 348.6,70.5 349.2,71.8 349.8,73.2 350.3,74.7 350.9,76.5 351.5,78.3 352.0,80.1 352.6,81.8 353.2,83.6 353.7,85.5 354.3,87.5 354.8,89.6 355.4,91.6 356.0,93.9 356.5,96.2 357.1,98.7 357.7,100.9 358.2,102.8 358.8,104.6 359.4,106.2 359.9,107.4 360.5,108.5 361.1,109.5 361.6,110.3 362.2,111.0 362.8,111.5 363.3,112.0 363.9,112.3 364.5,112.5 365.0,112.6 365.6,112.7 366.1,112.8 366.7,112.9 367.3,112.9 367.8,113.0 368.4,113.0 369.0,113.1 369.5,113.1 370.1,113.2 370.7,113.2 371.2,113.2 371.8,113.2 372.4,113.2 372.9,113.3 373.5,113.3 374.1,113.3 374.6,113.3 375.2,113.4 375.8,113.4 376.3,113.4 376.9,113.4 377.4,113.5 378.0,113.5 378.6,113.6 379.1,113.6 379.7,113.6 380.3,113.7 380.8,113.8 381.4,113.8 382.0,113.9 382.5,114.0 383.1,114.2 383.7,114.3 384.2,114.5 384.8,114.7 385.4,114.8 385.9,115.0 386.5,115.2 387.1,115.4 387.6,115.6 388.2,115.8 388.7,116.0 389.3,116.3 389.9,116.5 390.4,116.8 391.0,117.0 391.6,117.2 392.1,117.5 392.7,117.7 393.3,117.9 393.8,118.1 394.4,118.3 395.0,118.4 395.5,118.6 396.1,118.8 396.7,119.0 397.2,119.2 397.8,119.3 398.4,119.5 398.9,119.6 399.5,119.8 400.0,119.9 400.6,120.1 401.2,120.2 401.7,120.4 402.3,120.5 402.9,120.6 403.4,120.7 404.0,120.8 404.6,120.9 405.1,121.1 405.7,121.2 406.3,121.3 406.8,121.4 407.4,121.5 408.0,121.6 408.5,121.6 409.1,121.7 409.7,121.7 410.2,121.8 410.8,121.8 411.3,121.8 411.9,121.9 412.5,121.9 413.0,121.9 413.6,122.0 414.2,122.0 414.7,122.0 415.3,122.0 415.9,122.1 416.4,122.1 417.0,122.1 417.6,122.1 418.1,122.1 418.7,122.1 419.3,122.2 419.8,122.2 420.4,122.2 421.0,122.2 421.5,122.2 422.1,122.2 422.6,122.2 423.2,122.2 423.8,122.2 424.3,122.3 424.9,122.3 425.5,122.3 426.0,122.3 426.6,122.3 427.2,122.3 427.7,122.3 428.3,122.3 428.9,122.3 429.4,122.3 430.0,122.3 430.6,122.3 431.1,122.3 431.7,122.3 432.3,122.4 432.8,122.4 433.4,122.4 433.9,122.4 434.5,122.4 435.1,122.4 435.6,122.4 436.2,122.4 436.8,122.4 437.3,122.4 437.9,122.4 438.5,122.4 439.0,122.4 439.6,122.4 440.2,122.4 440.7,122.5 441.3,122.5 441.9,122.5 442.4,122.5 443.0,122.5 443.6,122.5 444.1,122.5 444.7,122.5 445.2,122.5 445.8,122.5 446.4,122.5 446.9,122.5 447.5,122.5 448.1,122.5 448.6,122.5 449.2,122.6 449.8,122.6 450.3,122.6 450.9,122.6 451.5,122.6 452.0,122.6 452.6,122.6 453.2,122.6 453.7,122.6 454.3,122.6 454.9,122.6 455.4,122.7 456.0,122.7 456.5,122.7 457.1,122.7 457.7,122.7 458.2,122.7 458.8,122.8 459.4,122.8 459.9,122.8 460.5,122.8 461.1,122.8 461.6,122.9 462.2,122.9 462.8,122.9 463.3,122.9 463.9,122.9 464.5,123.0 465.0,123.0 465.6,123.0 466.2,123.0 466.7,123.0 467.3,123.0 467.8,123.1 468.4,123.1 469.0,123.1 469.5,123.1 470.1,123.1 470.7,123.2 471.2,123.2 471.8,123.2 472.4,123.2 472.9,123.2 473.5,123.3 474.1,123.3" fill="none" stroke="#f01818" stroke-width="1.0" stroke-linejoin="round" stroke-dasharray="0.9,0.95"/>
<path d="M324.3,78.8L324.9,78.8 325.5,78.8 326.0,78.8 326.6,78.8 327.2,78.8 327.7,78.8 328.3,78.8 328.9,78.8 329.4,78.7 330.0,78.7 330.6,78.7 331.1,78.6 331.7,78.5 332.2,78.4 332.8,78.2 333.4,78.1 333.9,77.9 334.5,77.7 335.1,77.4 335.6,77.0 336.2,76.6 336.8,76.1 337.3,75.6 337.9,75.0 338.5,74.2 339.0,73.4 339.6,72.4 340.2,71.5 340.7,70.7 341.3,69.8 341.9,68.9 342.4,68.1 343.0,67.4 343.5,66.8 344.1,66.4 344.7,66.1 345.2,65.9 345.8,66.2 346.4,66.8 346.9,67.5 347.5,68.5 348.1,69.7 348.6,71.1 349.2,72.7 349.8,74.7 350.3,77.0 350.9,79.5 351.5,82.1 352.0,84.9 352.6,87.9 353.2,90.8 353.7,93.6 354.3,96.6 354.8,99.3 355.4,101.6 356.0,103.6 356.5,105.3 357.1,106.9 357.7,108.1 358.2,109.2 358.8,110.2 359.4,111.1 359.9,111.7 360.5,112.1 361.1,112.4 361.6,112.5 362.2,112.6 362.8,112.6 363.3,112.6 363.9,112.6 364.5,112.6 365.0,112.7 365.6,112.8 366.1,112.8 366.7,112.9 367.3,112.9 367.8,113.0 368.4,113.0 369.0,113.1 369.5,113.1 370.1,113.2 370.7,113.2 371.2,113.2 371.8,113.2 372.4,113.2 372.9,113.3 373.5,113.3 374.1,113.3 374.6,113.3 375.2,113.4 375.8,113.4 376.3,113.4 376.9,113.4 377.4,113.5 378.0,113.5 378.6,113.6 379.1,113.6 379.7,113.6 380.3,113.7 380.8,113.8 381.4,113.8 382.0,113.9 382.5,114.0 383.1,114.2 383.7,114.3 384.2,114.5 384.8,114.7 385.4,114.8 385.9,115.0 386.5,115.2 387.1,115.4 387.6,115.6 388.2,115.8 388.7,116.0 389.3,116.3 389.9,116.5 390.4,116.8 391.0,117.0 391.6,117.2 392.1,117.5 392.7,117.7 393.3,117.9 393.8,118.1 394.4,118.3 395.0,118.4 395.5,118.6 396.1,118.8 396.7,119.0 397.2,119.2 397.8,119.3 398.4,119.5 398.9,119.6 399.5,119.8 400.0,119.9 400.6,120.1 401.2,120.2 401.7,120.4 402.3,120.5 402.9,120.6 403.4,120.7 404.0,120.8 404.6,120.9 405.1,121.1 405.7,121.2 406.3,121.3 406.8,121.4 407.4,121.5 408.0,121.6 408.5,121.6 409.1,121.7 409.7,121.7 410.2,121.8 410.8,121.8 411.3,121.8 411.9,121.9 412.5,121.9 413.0,121.9 413.6,122.0 414.2,122.0 414.7,122.0 415.3,122.0 415.9,122.1 416.4,122.1 417.0,122.1 417.6,122.1 418.1,122.1 418.7,122.1 419.3,122.2 419.8,122.2 420.4,122.2 421.0,122.2 421.5,122.2 422.1,122.2 422.6,122.2 423.2,122.2 423.8,122.2 424.3,122.3 424.9,122.3 425.5,122.3 426.0,122.3 426.6,122.3 427.2,122.3 427.7,122.3 428.3,122.3 428.9,122.3 429.4,122.3 430.0,122.3 430.6,122.3 431.1,122.3 431.7,122.3 432.3,122.4 432.8,122.4 433.4,122.4 433.9,122.4 434.5,122.4 435.1,122.4 435.6,122.4 436.2,122.4 436.8,122.4 437.3,122.4 437.9,122.4 438.5,122.4 439.0,122.4 439.6,122.4 440.2,122.4 440.7,122.5 441.3,122.5 441.9,122.5 442.4,122.5 443.0,122.5 443.6,122.5 444.1,122.5 444.7,122.5 445.2,122.5 445.8,122.5 446.4,122.5 446.9,122.5 447.5,122.5 448.1,122.5 448.6,122.5 449.2,122.6 449.8,122.6 450.3,122.6 450.9,122.6 451.5,122.6 452.0,122.6 452.6,122.6 453.2,122.6 453.7,122.6 454.3,122.6 454.9,122.6 455.4,122.7 456.0,122.7 456.5,122.7 457.1,122.7 457.7,122.7 458.2,122.7 458.8,122.8 459.4,122.8 459.9,122.8 460.5,122.8 461.1,122.8 461.6,122.9 462.2,122.9 462.8,122.9 463.3,122.9 463.9,122.9 464.5,123.0 465.0,123.0 465.6,123.0 466.2,123.0 466.7,123.0 467.3,123.0 467.8,123.1 468.4,123.1 469.0,123.1 469.5,123.1 470.1,123.1 470.7,123.2 471.2,123.2 471.8,123.2 472.4,123.2 472.9,123.2 473.5,123.3 474.1,123.3" fill="none" stroke="#f01818" stroke-width="1.25" stroke-linejoin="round" stroke-dasharray="3.5,2.8" stroke-dashoffset="3.0"/>
<path d="M324.3,78.8L324.9,78.8 325.5,78.8 326.0,78.8 326.6,78.8 327.2,78.8 327.7,78.8 328.3,78.8 328.9,78.8 329.4,78.7 330.0,78.7 330.6,78.7 331.1,78.6 331.7,78.5 332.2,78.4 332.8,78.2 333.4,78.1 333.9,77.9 334.5,77.7 335.1,77.4 335.6,77.0 336.2,76.6 336.8,76.1 337.3,75.6 337.9,75.0 338.5,74.2 339.0,73.4 339.6,72.4 340.2,71.5 340.7,70.7 341.3,69.8 341.9,68.9 342.4,68.1 343.0,67.4 343.5,66.8 344.1,66.4 344.7,66.1 345.2,65.9 345.8,66.1 346.4,66.7 346.9,67.4 347.5,68.3 348.1,69.3 348.6,70.6 349.2,71.9 349.8,73.4 350.3,75.1 350.9,77.0 351.5,79.0 352.0,80.9 352.6,82.9 353.2,84.9 353.7,87.0 354.3,89.2 354.8,91.3 355.4,93.6 356.0,95.9 356.5,98.3 357.1,100.4 357.7,102.3 358.2,104.0 358.8,105.5 359.4,106.6 359.9,107.6 360.5,108.5 361.1,109.4 361.6,110.1 362.2,110.8 362.8,111.4 363.3,111.9 363.9,112.3 364.5,112.5 365.0,112.6 365.6,112.7 366.1,112.8 366.7,112.9 367.3,112.9 367.8,113.0 368.4,113.0 369.0,113.1 369.5,113.1 370.1,113.2 370.7,113.2 371.2,113.2 371.8,113.2 372.4,113.2 372.9,113.3 373.5,113.3 374.1,113.3 374.6,113.3 375.2,113.4 375.8,113.4 376.3,113.4 376.9,113.4 377.4,113.5 378.0,113.5 378.6,113.6 379.1,113.6 379.7,113.6 380.3,113.7 380.8,113.8 381.4,113.8 382.0,113.9 382.5,114.0 383.1,114.2 383.7,114.3 384.2,114.5 384.8,114.7 385.4,114.8 385.9,115.0 386.5,115.2 387.1,115.4 387.6,115.6 388.2,115.8 388.7,116.0 389.3,116.3 389.9,116.5 390.4,116.8 391.0,117.0 391.6,117.2 392.1,117.5 392.7,117.7 393.3,117.9 393.8,118.1 394.4,118.3 395.0,118.4 395.5,118.6 396.1,118.8 396.7,119.0 397.2,119.2 397.8,119.3 398.4,119.5 398.9,119.6 399.5,119.8 400.0,119.9 400.6,120.1 401.2,120.2 401.7,120.4 402.3,120.5 402.9,120.6 403.4,120.7 404.0,120.8 404.6,120.9 405.1,121.1 405.7,121.2 406.3,121.3 406.8,121.4 407.4,121.5 408.0,121.6 408.5,121.6 409.1,121.7 409.7,121.7 410.2,121.8 410.8,121.8 411.3,121.8 411.9,121.9 412.5,121.9 413.0,121.9 413.6,122.0 414.2,122.0 414.7,122.0 415.3,122.0 415.9,122.1 416.4,122.1 417.0,122.1 417.6,122.1 418.1,122.1 418.7,122.1 419.3,122.2 419.8,122.2 420.4,122.2 421.0,122.2 421.5,122.2 422.1,122.2 422.6,122.2 423.2,122.2 423.8,122.2 424.3,122.3 424.9,122.3 425.5,122.3 426.0,122.3 426.6,122.3 427.2,122.3 427.7,122.3 428.3,122.3 428.9,122.3 429.4,122.3 430.0,122.3 430.6,122.3 431.1,122.3 431.7,122.3 432.3,122.4 432.8,122.4 433.4,122.4 433.9,122.4 434.5,122.4 435.1,122.4 435.6,122.4 436.2,122.4 436.8,122.4 437.3,122.4 437.9,122.4 438.5,122.4 439.0,122.4 439.6,122.4 440.2,122.4 440.7,122.5 441.3,122.5 441.9,122.5 442.4,122.5 443.0,122.5 443.6,122.5 444.1,122.5 444.7,122.5 445.2,122.5 445.8,122.5 446.4,122.5 446.9,122.5 447.5,122.5 448.1,122.5 448.6,122.5 449.2,122.6 449.8,122.6 450.3,122.6 450.9,122.6 451.5,122.6 452.0,122.6 452.6,122.6 453.2,122.6 453.7,122.6 454.3,122.6 454.9,122.6 455.4,122.7 456.0,122.7 456.5,122.7 457.1,122.7 457.7,122.7 458.2,122.7 458.8,122.8 459.4,122.8 459.9,122.8 460.5,122.8 461.1,122.8 461.6,122.9 462.2,122.9 462.8,122.9 463.3,122.9 463.9,122.9 464.5,123.0 465.0,123.0 465.6,123.0 466.2,123.0 466.7,123.0 467.3,123.0 467.8,123.1 468.4,123.1 469.0,123.1 469.5,123.1 470.1,123.1 470.7,123.2 471.2,123.2 471.8,123.2 472.4,123.2 472.9,123.2 473.5,123.3 474.1,123.3" fill="none" stroke="#76d42c" stroke-width="1.0" stroke-linejoin="round" stroke-dasharray="0.9,0.95"/>
<path d="M324.3,78.8L324.9,78.8 325.5,78.8 326.0,78.8 326.6,78.8 327.2,78.8 327.7,78.8 328.3,78.8 328.9,78.8 329.4,78.7 330.0,78.7 330.6,78.7 331.1,78.6 331.7,78.5 332.2,78.4 332.8,78.2 333.4,78.1 333.9,77.9 334.5,77.7 335.1,77.4 335.6,77.0 336.2,76.6 336.8,76.1 337.3,75.6 337.9,75.0 338.5,74.2 339.0,73.4 339.6,72.4 340.2,71.5 340.7,70.7 341.3,69.8 341.9,68.9 342.4,68.1 343.0,67.4 343.5,66.8 344.1,66.4 344.7,66.1 345.2,65.9 345.8,66.2 346.4,66.8 346.9,67.5 347.5,68.5 348.1,69.7 348.6,71.2 349.2,72.8 349.8,74.9 350.3,77.2 350.9,79.8 351.5,82.5 352.0,85.4 352.6,88.4 353.2,91.4 353.7,94.4 354.3,97.4 354.8,100.1 355.4,102.3 356.0,104.3 356.5,106.0 357.1,107.4 357.7,108.6 358.2,109.7 358.8,110.8 359.4,111.6 359.9,112.3 360.5,112.7 361.1,112.9 361.6,112.9 362.2,112.9 362.8,112.8 363.3,112.7 363.9,112.7 364.5,112.7 365.0,112.7 365.6,112.8 366.1,112.8 366.7,112.9 367.3,112.9 367.8,113.0 368.4,113.0 369.0,113.1 369.5,113.1 370.1,113.2 370.7,113.2 371.2,113.2 371.8,113.2 372.4,113.2 372.9,113.3 373.5,113.3 374.1,113.3 374.6,113.3 375.2,113.4 375.8,113.4 376.3,113.4 376.9,113.4 377.4,113.5 378.0,113.5 378.6,113.6 379.1,113.6 379.7,113.6 380.3,113.7 380.8,113.8 381.4,113.8 382.0,113.9 382.5,114.0 383.1,114.2 383.7,114.3 384.2,114.5 384.8,114.7 385.4,114.8 385.9,115.0 386.5,115.2 387.1,115.4 387.6,115.6 388.2,115.8 388.7,116.0 389.3,116.3 389.9,116.5 390.4,116.8 391.0,117.0 391.6,117.2 392.1,117.5 392.7,117.7 393.3,117.9 393.8,118.1 394.4,118.3 395.0,118.4 395.5,118.6 396.1,118.8 396.7,119.0 397.2,119.2 397.8,119.3 398.4,119.5 398.9,119.6 399.5,119.8 400.0,119.9 400.6,120.1 401.2,120.2 401.7,120.4 402.3,120.5 402.9,120.6 403.4,120.7 404.0,120.8 404.6,120.9 405.1,121.1 405.7,121.2 406.3,121.3 406.8,121.4 407.4,121.5 408.0,121.6 408.5,121.6 409.1,121.7 409.7,121.7 410.2,121.8 410.8,121.8 411.3,121.8 411.9,121.9 412.5,121.9 413.0,121.9 413.6,122.0 414.2,122.0 414.7,122.0 415.3,122.0 415.9,122.1 416.4,122.1 417.0,122.1 417.6,122.1 418.1,122.1 418.7,122.1 419.3,122.2 419.8,122.2 420.4,122.2 421.0,122.2 421.5,122.2 422.1,122.2 422.6,122.2 423.2,122.2 423.8,122.2 424.3,122.3 424.9,122.3 425.5,122.3 426.0,122.3 426.6,122.3 427.2,122.3 427.7,122.3 428.3,122.3 428.9,122.3 429.4,122.3 430.0,122.3 430.6,122.3 431.1,122.3 431.7,122.3 432.3,122.4 432.8,122.4 433.4,122.4 433.9,122.4 434.5,122.4 435.1,122.4 435.6,122.4 436.2,122.4 436.8,122.4 437.3,122.4 437.9,122.4 438.5,122.4 439.0,122.4 439.6,122.4 440.2,122.4 440.7,122.5 441.3,122.5 441.9,122.5 442.4,122.5 443.0,122.5 443.6,122.5 444.1,122.5 444.7,122.5 445.2,122.5 445.8,122.5 446.4,122.5 446.9,122.5 447.5,122.5 448.1,122.5 448.6,122.5 449.2,122.6 449.8,122.6 450.3,122.6 450.9,122.6 451.5,122.6 452.0,122.6 452.6,122.6 453.2,122.6 453.7,122.6 454.3,122.6 454.9,122.6 455.4,122.7 456.0,122.7 456.5,122.7 457.1,122.7 457.7,122.7 458.2,122.7 458.8,122.8 459.4,122.8 459.9,122.8 460.5,122.8 461.1,122.8 461.6,122.9 462.2,122.9 462.8,122.9 463.3,122.9 463.9,122.9 464.5,123.0 465.0,123.0 465.6,123.0 466.2,123.0 466.7,123.0 467.3,123.0 467.8,123.1 468.4,123.1 469.0,123.1 469.5,123.1 470.1,123.1 470.7,123.2 471.2,123.2 471.8,123.2 472.4,123.2 472.9,123.2 473.5,123.3 474.1,123.3" fill="none" stroke="#76d42c" stroke-width="1.5" stroke-linejoin="round" stroke-dasharray="3.5,2.8" stroke-dashoffset="0"/>
<g opacity="0.55">
<path d="M474.1,123.3L474.6,123.3 475.2,123.3 475.8,123.3 476.3,123.3 476.9,123.3 477.5,123.3 478.0,123.3 478.6,123.3 479.1,123.3 479.7,123.3 480.3,123.3 480.8,123.3 481.4,123.3 482.0,123.3 482.5,123.3 483.1,123.3 483.7,123.3 484.2,123.3 484.8,123.3 485.4,123.3 485.9,123.3 486.5,123.3 487.1,123.3 487.6,123.3 488.2,123.3 488.8,123.3 489.3,123.3 489.9,123.3 490.4,123.3 491.0,123.3 491.6,123.3 492.1,123.3 492.7,123.3 493.3,123.3 493.8,123.3 494.4,123.3 495.0,123.3 495.5,123.3 496.1,123.3 496.7,123.3 497.2,123.3 497.8,123.3 498.4,123.3 498.9,123.3 499.5,123.3 500.1,123.3 500.6,123.3 501.2,123.3 501.7,123.3 502.3,123.3 502.9,123.3 503.4,123.3 504.0,123.3 504.6,123.3 505.1,123.3 505.7,123.3 506.3,123.3 506.8,123.3 507.4,123.3 508.0,123.3 508.5,123.3 509.1,123.3 509.7,123.3 510.2,123.3 510.8,123.3 511.4,123.3 511.9,123.3 512.5,123.3 513.0,123.3 513.6,123.3 514.2,123.3 514.7,123.3 515.3,123.3 515.9,123.3 516.4,123.3 517.0,123.3 517.6,123.3 518.1,123.3 518.7,123.3 519.3,123.3 519.8,123.3 520.4,123.3 521.0,123.3 521.5,123.3 522.1,123.3 522.7,123.3 523.2,123.3 523.8,123.3 524.3,123.3 524.9,123.3 525.5,123.3 526.0,123.3 526.6,123.3 527.2,123.3 527.7,123.3 528.3,123.3 528.9,123.3 529.4,123.3 530.0,123.3 530.6,123.3 531.1,123.3 531.7,123.3 532.3,123.3 532.8,123.3 533.4,123.3 534.0,123.3 534.5,123.3 535.1,123.3 535.6,123.3 536.2,123.3 536.8,123.3 537.3,123.3 537.9,123.3 538.5,123.3 539.0,123.3 539.6,123.3" fill="none" stroke="#2e86d4" stroke-width="1.4" stroke-linejoin="round"/>
<path d="M474.1,123.3L474.6,123.3 475.2,123.3 475.8,123.3 476.3,123.3 476.9,123.3 477.5,123.3 478.0,123.3 478.6,123.3 479.1,123.3 479.7,123.3 480.3,123.3 480.8,123.3 481.4,123.3 482.0,123.3 482.5,123.3 483.1,123.3 483.7,123.3 484.2,123.3 484.8,123.3 485.4,123.3 485.9,123.3 486.5,123.3 487.1,123.3 487.6,123.3 488.2,123.3 488.8,123.3 489.3,123.3 489.9,123.3 490.4,123.3 491.0,123.3 491.6,123.3 492.1,123.3 492.7,123.3 493.3,123.3 493.8,123.3 494.4,123.3 495.0,123.3 495.5,123.3 496.1,123.3 496.7,123.3 497.2,123.3 497.8,123.3 498.4,123.3 498.9,123.3 499.5,123.3 500.1,123.3 500.6,123.3 501.2,123.3 501.7,123.3 502.3,123.3 502.9,123.3 503.4,123.3 504.0,123.3 504.6,123.3 505.1,123.3 505.7,123.3 506.3,123.3 506.8,123.3 507.4,123.3 508.0,123.3 508.5,123.3 509.1,123.3 509.7,123.3 510.2,123.3 510.8,123.3 511.4,123.3 511.9,123.3 512.5,123.3 513.0,123.3 513.6,123.3 514.2,123.3 514.7,123.3 515.3,123.3 515.9,123.3 516.4,123.3 517.0,123.3 517.6,123.3 518.1,123.3 518.7,123.3 519.3,123.3 519.8,123.3 520.4,123.3 521.0,123.3 521.5,123.3 522.1,123.3 522.7,123.3 523.2,123.3 523.8,123.3 524.3,123.3 524.9,123.3 525.5,123.3 526.0,123.3 526.6,123.3 527.2,123.3 527.7,123.3 528.3,123.3 528.9,123.3 529.4,123.3 530.0,123.3 530.6,123.3 531.1,123.3 531.7,123.3 532.3,123.3 532.8,123.3 533.4,123.3 534.0,123.3 534.5,123.3 535.1,123.3 535.6,123.3 536.2,123.3 536.8,123.3 537.3,123.3 537.9,123.3 538.5,123.3 539.0,123.3 539.6,123.3" fill="none" stroke="#f58a3c" stroke-width="1.0" stroke-linejoin="round" stroke-dasharray="0.9,0.95"/>
<path d="M474.1,123.3L474.6,123.3 475.2,123.3 475.8,123.3 476.3,123.3 476.9,123.3 477.5,123.3 478.0,123.3 478.6,123.3 479.1,123.3 479.7,123.3 480.3,123.3 480.8,123.3 481.4,123.3 482.0,123.3 482.5,123.3 483.1,123.3 483.7,123.3 484.2,123.3 484.8,123.3 485.4,123.3 485.9,123.3 486.5,123.3 487.1,123.3 487.6,123.3 488.2,123.3 488.8,123.3 489.3,123.3 489.9,123.3 490.4,123.3 491.0,123.3 491.6,123.3 492.1,123.3 492.7,123.3 493.3,123.3 493.8,123.3 494.4,123.3 495.0,123.3 495.5,123.3 496.1,123.3 496.7,123.3 497.2,123.3 497.8,123.3 498.4,123.3 498.9,123.3 499.5,123.3 500.1,123.3 500.6,123.3 501.2,123.3 501.7,123.3 502.3,123.3 502.9,123.3 503.4,123.3 504.0,123.3 504.6,123.3 505.1,123.3 505.7,123.3 506.3,123.3 506.8,123.3 507.4,123.3 508.0,123.3 508.5,123.3 509.1,123.3 509.7,123.3 510.2,123.3 510.8,123.3 511.4,123.3 511.9,123.3 512.5,123.3 513.0,123.3 513.6,123.3 514.2,123.3 514.7,123.3 515.3,123.3 515.9,123.3 516.4,123.3 517.0,123.3 517.6,123.3 518.1,123.3 518.7,123.3 519.3,123.3 519.8,123.3 520.4,123.3 521.0,123.3 521.5,123.3 522.1,123.3 522.7,123.3 523.2,123.3 523.8,123.3 524.3,123.3 524.9,123.3 525.5,123.3 526.0,123.3 526.6,123.3 527.2,123.3 527.7,123.3 528.3,123.3 528.9,123.3 529.4,123.3 530.0,123.3 530.6,123.3 531.1,123.3 531.7,123.3 532.3,123.3 532.8,123.3 533.4,123.3 534.0,123.3 534.5,123.3 535.1,123.3 535.6,123.3 536.2,123.3 536.8,123.3 537.3,123.3 537.9,123.3 538.5,123.3 539.0,123.3 539.6,123.3" fill="none" stroke="#f58a3c" stroke-width="1.25" stroke-linejoin="round" stroke-dasharray="3.5,2.8" stroke-dashoffset="1.5"/>
<path d="M474.1,123.3L474.6,123.3 475.2,123.3 475.8,123.3 476.3,123.3 476.9,123.3 477.5,123.3 478.0,123.3 478.6,123.3 479.1,123.3 479.7,123.3 480.3,123.3 480.8,123.3 481.4,123.3 482.0,123.3 482.5,123.3 483.1,123.3 483.7,123.3 484.2,123.3 484.8,123.3 485.4,123.3 485.9,123.3 486.5,123.3 487.1,123.3 487.6,123.3 488.2,123.3 488.8,123.3 489.3,123.3 489.9,123.3 490.4,123.3 491.0,123.3 491.6,123.3 492.1,123.3 492.7,123.3 493.3,123.3 493.8,123.3 494.4,123.3 495.0,123.3 495.5,123.3 496.1,123.3 496.7,123.3 497.2,123.3 497.8,123.3 498.4,123.3 498.9,123.3 499.5,123.3 500.1,123.3 500.6,123.3 501.2,123.3 501.7,123.3 502.3,123.3 502.9,123.3 503.4,123.3 504.0,123.3 504.6,123.3 505.1,123.3 505.7,123.3 506.3,123.3 506.8,123.3 507.4,123.3 508.0,123.3 508.5,123.3 509.1,123.3 509.7,123.3 510.2,123.3 510.8,123.3 511.4,123.3 511.9,123.3 512.5,123.3 513.0,123.3 513.6,123.3 514.2,123.3 514.7,123.3 515.3,123.3 515.9,123.3 516.4,123.3 517.0,123.3 517.6,123.3 518.1,123.3 518.7,123.3 519.3,123.3 519.8,123.3 520.4,123.3 521.0,123.3 521.5,123.3 522.1,123.3 522.7,123.3 523.2,123.3 523.8,123.3 524.3,123.3 524.9,123.3 525.5,123.3 526.0,123.3 526.6,123.3 527.2,123.3 527.7,123.3 528.3,123.3 528.9,123.3 529.4,123.3 530.0,123.3 530.6,123.3 531.1,123.3 531.7,123.3 532.3,123.3 532.8,123.3 533.4,123.3 534.0,123.3 534.5,123.3 535.1,123.3 535.6,123.3 536.2,123.3 536.8,123.3 537.3,123.3 537.9,123.3 538.5,123.3 539.0,123.3 539.6,123.3" fill="none" stroke="#f01818" stroke-width="1.0" stroke-linejoin="round" stroke-dasharray="0.9,0.95"/>
<path d="M474.1,123.3L474.6,123.3 475.2,123.3 475.8,123.3 476.3,123.3 476.9,123.3 477.5,123.3 478.0,123.3 478.6,123.3 479.1,123.3 479.7,123.3 480.3,123.3 480.8,123.3 481.4,123.3 482.0,123.3 482.5,123.3 483.1,123.3 483.7,123.3 484.2,123.3 484.8,123.3 485.4,123.3 485.9,123.3 486.5,123.3 487.1,123.3 487.6,123.3 488.2,123.3 488.8,123.3 489.3,123.3 489.9,123.3 490.4,123.3 491.0,123.3 491.6,123.3 492.1,123.3 492.7,123.3 493.3,123.3 493.8,123.3 494.4,123.3 495.0,123.3 495.5,123.3 496.1,123.3 496.7,123.3 497.2,123.3 497.8,123.3 498.4,123.3 498.9,123.3 499.5,123.3 500.1,123.3 500.6,123.3 501.2,123.3 501.7,123.3 502.3,123.3 502.9,123.3 503.4,123.3 504.0,123.3 504.6,123.3 505.1,123.3 505.7,123.3 506.3,123.3 506.8,123.3 507.4,123.3 508.0,123.3 508.5,123.3 509.1,123.3 509.7,123.3 510.2,123.3 510.8,123.3 511.4,123.3 511.9,123.3 512.5,123.3 513.0,123.3 513.6,123.3 514.2,123.3 514.7,123.3 515.3,123.3 515.9,123.3 516.4,123.3 517.0,123.3 517.6,123.3 518.1,123.3 518.7,123.3 519.3,123.3 519.8,123.3 520.4,123.3 521.0,123.3 521.5,123.3 522.1,123.3 522.7,123.3 523.2,123.3 523.8,123.3 524.3,123.3 524.9,123.3 525.5,123.3 526.0,123.3 526.6,123.3 527.2,123.3 527.7,123.3 528.3,123.3 528.9,123.3 529.4,123.3 530.0,123.3 530.6,123.3 531.1,123.3 531.7,123.3 532.3,123.3 532.8,123.3 533.4,123.3 534.0,123.3 534.5,123.3 535.1,123.3 535.6,123.3 536.2,123.3 536.8,123.3 537.3,123.3 537.9,123.3 538.5,123.3 539.0,123.3 539.6,123.3" fill="none" stroke="#f01818" stroke-width="1.25" stroke-linejoin="round" stroke-dasharray="3.5,2.8" stroke-dashoffset="3.0"/>
<path d="M474.1,123.3L474.6,123.3 475.2,123.3 475.8,123.3 476.3,123.3 476.9,123.3 477.5,123.3 478.0,123.3 478.6,123.3 479.1,123.3 479.7,123.3 480.3,123.3 480.8,123.3 481.4,123.3 482.0,123.3 482.5,123.3 483.1,123.3 483.7,123.3 484.2,123.3 484.8,123.3 485.4,123.3 485.9,123.3 486.5,123.3 487.1,123.3 487.6,123.3 488.2,123.3 488.8,123.3 489.3,123.3 489.9,123.3 490.4,123.3 491.0,123.3 491.6,123.3 492.1,123.3 492.7,123.3 493.3,123.3 493.8,123.3 494.4,123.3 495.0,123.3 495.5,123.3 496.1,123.3 496.7,123.3 497.2,123.3 497.8,123.3 498.4,123.3 498.9,123.3 499.5,123.3 500.1,123.3 500.6,123.3 501.2,123.3 501.7,123.3 502.3,123.3 502.9,123.3 503.4,123.3 504.0,123.3 504.6,123.3 505.1,123.3 505.7,123.3 506.3,123.3 506.8,123.3 507.4,123.3 508.0,123.3 508.5,123.3 509.1,123.3 509.7,123.3 510.2,123.3 510.8,123.3 511.4,123.3 511.9,123.3 512.5,123.3 513.0,123.3 513.6,123.3 514.2,123.3 514.7,123.3 515.3,123.3 515.9,123.3 516.4,123.3 517.0,123.3 517.6,123.3 518.1,123.3 518.7,123.3 519.3,123.3 519.8,123.3 520.4,123.3 521.0,123.3 521.5,123.3 522.1,123.3 522.7,123.3 523.2,123.3 523.8,123.3 524.3,123.3 524.9,123.3 525.5,123.3 526.0,123.3 526.6,123.3 527.2,123.3 527.7,123.3 528.3,123.3 528.9,123.3 529.4,123.3 530.0,123.3 530.6,123.3 531.1,123.3 531.7,123.3 532.3,123.3 532.8,123.3 533.4,123.3 534.0,123.3 534.5,123.3 535.1,123.3 535.6,123.3 536.2,123.3 536.8,123.3 537.3,123.3 537.9,123.3 538.5,123.3 539.0,123.3 539.6,123.3" fill="none" stroke="#76d42c" stroke-width="1.0" stroke-linejoin="round" stroke-dasharray="0.9,0.95"/>
<path d="M474.1,123.3L474.6,123.3 475.2,123.3 475.8,123.3 476.3,123.3 476.9,123.3 477.5,123.3 478.0,123.3 478.6,123.3 479.1,123.3 479.7,123.3 480.3,123.3 480.8,123.3 481.4,123.3 482.0,123.3 482.5,123.3 483.1,123.3 483.7,123.3 484.2,123.3 484.8,123.3 485.4,123.3 485.9,123.3 486.5,123.3 487.1,123.3 487.6,123.3 488.2,123.3 488.8,123.3 489.3,123.3 489.9,123.3 490.4,123.3 491.0,123.3 491.6,123.3 492.1,123.3 492.7,123.3 493.3,123.3 493.8,123.3 494.4,123.3 495.0,123.3 495.5,123.3 496.1,123.3 496.7,123.3 497.2,123.3 497.8,123.3 498.4,123.3 498.9,123.3 499.5,123.3 500.1,123.3 500.6,123.3 501.2,123.3 501.7,123.3 502.3,123.3 502.9,123.3 503.4,123.3 504.0,123.3 504.6,123.3 505.1,123.3 505.7,123.3 506.3,123.3 506.8,123.3 507.4,123.3 508.0,123.3 508.5,123.3 509.1,123.3 509.7,123.3 510.2,123.3 510.8,123.3 511.4,123.3 511.9,123.3 512.5,123.3 513.0,123.3 513.6,123.3 514.2,123.3 514.7,123.3 515.3,123.3 515.9,123.3 516.4,123.3 517.0,123.3 517.6,123.3 518.1,123.3 518.7,123.3 519.3,123.3 519.8,123.3 520.4,123.3 521.0,123.3 521.5,123.3 522.1,123.3 522.7,123.3 523.2,123.3 523.8,123.3 524.3,123.3 524.9,123.3 525.5,123.3 526.0,123.3 526.6,123.3 527.2,123.3 527.7,123.3 528.3,123.3 528.9,123.3 529.4,123.3 530.0,123.3 530.6,123.3 531.1,123.3 531.7,123.3 532.3,123.3 532.8,123.3 533.4,123.3 534.0,123.3 534.5,123.3 535.1,123.3 535.6,123.3 536.2,123.3 536.8,123.3 537.3,123.3 537.9,123.3 538.5,123.3 539.0,123.3 539.6,123.3" fill="none" stroke="#76d42c" stroke-width="1.5" stroke-linejoin="round" stroke-dasharray="3.5,2.8" stroke-dashoffset="0"/>
</g>
<text x="415.90" y="169.20" font-size="11" text-anchor="middle" fill="#111" font-family='"Liberation Serif", serif' font-weight="bold">(b)</text>
<path d="M26.50,208.50V299.10H255.00" fill="none" stroke="#d4d4d4" stroke-width="0.8"/>
<text x="19.90" y="301.40" font-size="6.6" text-anchor="end" fill="#5e5e5e" font-family='"Liberation Sans", sans-serif'>0</text>
<text x="19.90" y="271.37" font-size="6.6" text-anchor="end" fill="#5e5e5e" font-family='"Liberation Sans", sans-serif' textLength="7.7" lengthAdjust="spacingAndGlyphs">0.5</text>
<text x="19.90" y="241.33" font-size="6.6" text-anchor="end" fill="#5e5e5e" font-family='"Liberation Sans", sans-serif'>1</text>
<text x="19.90" y="211.30" font-size="6.6" text-anchor="end" fill="#5e5e5e" font-family='"Liberation Sans", sans-serif' textLength="7.7" lengthAdjust="spacingAndGlyphs">1.5</text>
<text x="26.30" y="309.75" font-size="6.6" text-anchor="middle" fill="#5e5e5e" font-family='"Liberation Sans", sans-serif' textLength="11.7" lengthAdjust="spacingAndGlyphs">0.00</text>
<text x="83.30" y="309.75" font-size="6.6" text-anchor="middle" fill="#5e5e5e" font-family='"Liberation Sans", sans-serif' textLength="11.7" lengthAdjust="spacingAndGlyphs">0.50</text>
<text x="140.30" y="309.75" font-size="6.6" text-anchor="middle" fill="#5e5e5e" font-family='"Liberation Sans", sans-serif' textLength="11.7" lengthAdjust="spacingAndGlyphs">1.00</text>
<text x="197.30" y="309.75" font-size="6.6" text-anchor="middle" fill="#5e5e5e" font-family='"Liberation Sans", sans-serif' textLength="11.7" lengthAdjust="spacingAndGlyphs">1.50</text>
<text x="254.30" y="309.75" font-size="6.6" text-anchor="middle" fill="#5e5e5e" font-family='"Liberation Sans", sans-serif' textLength="11.7" lengthAdjust="spacingAndGlyphs">2.00</text>
<text x="140.60" y="321.40" font-size="6.9" text-anchor="middle" fill="#5e5e5e" font-family='"Liberation Sans", sans-serif' textLength="28.0" lengthAdjust="spacingAndGlyphs">ω [rad/s]</text>
<text transform="translate(8.70,254.05) rotate(-90)" font-size="6.9" text-anchor="middle" fill="#5e5e5e" font-family='"Liberation Sans", sans-serif' textLength="51" lengthAdjust="spacingAndGlyphs">Pitch/(H/2) [°/m]</text>
<line x1="25.30" y1="182.60" x2="44.90" y2="182.60" stroke="#2e86d4" stroke-width="1.4"/>
<text x="47.00" y="185.05" font-size="6.9" text-anchor="start" fill="#5e5e5e" font-family='"Liberation Sans", sans-serif' textLength="28.3" lengthAdjust="spacingAndGlyphs">U=0.0 m/s</text>
<line x1="78.70" y1="182.60" x2="98.30" y2="182.60" stroke="#f58a3c" stroke-width="1.0" stroke-dasharray="0.9,0.95"/>
<text x="100.40" y="185.05" font-size="6.9" text-anchor="start" fill="#5e5e5e" font-family='"Liberation Sans", sans-serif' textLength="28.3" lengthAdjust="spacingAndGlyphs">U=0.1 m/s</text>
<line x1="132.10" y1="182.60" x2="151.70" y2="182.60" stroke="#f58a3c" stroke-width="1.15" stroke-dasharray="3.5,2.8"/>
<text x="153.80" y="185.05" font-size="6.9" text-anchor="start" fill="#5e5e5e" font-family='"Liberation Sans", sans-serif' textLength="30.2" lengthAdjust="spacingAndGlyphs">U=-0.1 m/s</text>
<line x1="185.50" y1="182.60" x2="205.10" y2="182.60" stroke="#f01818" stroke-width="1.0" stroke-dasharray="0.9,0.95"/>
<text x="207.20" y="185.05" font-size="6.9" text-anchor="start" fill="#5e5e5e" font-family='"Liberation Sans", sans-serif' textLength="28.3" lengthAdjust="spacingAndGlyphs">U=0.2 m/s</text>
<line x1="25.30" y1="195.30" x2="44.90" y2="195.30" stroke="#f01818" stroke-width="1.15" stroke-dasharray="3.5,2.8"/>
<text x="47.00" y="197.75" font-size="6.9" text-anchor="start" fill="#5e5e5e" font-family='"Liberation Sans", sans-serif' textLength="30.2" lengthAdjust="spacingAndGlyphs">U=-0.2 m/s</text>
<line x1="78.70" y1="195.30" x2="98.30" y2="195.30" stroke="#76d42c" stroke-width="1.0" stroke-dasharray="0.9,0.95"/>
<text x="100.40" y="197.75" font-size="6.9" text-anchor="start" fill="#5e5e5e" font-family='"Liberation Sans", sans-serif' textLength="28.3" lengthAdjust="spacingAndGlyphs">U=0.3 m/s</text>
<line x1="132.10" y1="195.30" x2="151.70" y2="195.30" stroke="#76d42c" stroke-width="1.15" stroke-dasharray="3.5,2.8"/>
<text x="153.80" y="197.75" font-size="6.9" text-anchor="start" fill="#5e5e5e" font-family='"Liberation Sans", sans-serif' textLength="30.2" lengthAdjust="spacingAndGlyphs">U=-0.3 m/s</text>
<path d="M37.9,291.4L38.5,290.9 39.0,290.4 39.6,290.0 40.2,289.5 40.8,289.1 41.3,288.6 41.9,288.2 42.5,287.8 43.0,287.4 43.6,286.9 44.2,286.4 44.7,285.9 45.3,285.3 45.9,284.8 46.5,284.2 47.0,283.4 47.6,282.6 48.2,281.5 48.7,280.4 49.3,279.0 49.9,277.4 50.4,275.6 51.0,273.6 51.6,271.4 52.2,268.9 52.7,266.2 53.3,263.2 53.9,260.0 54.4,256.7 55.0,253.3 55.6,249.9 56.1,246.7 56.7,243.6 57.3,240.9 57.9,238.5 58.4,236.6 59.0,235.3 59.6,234.5 60.1,234.3 60.7,234.7 61.3,235.8 61.8,237.5 62.4,239.7 63.0,242.4 63.6,245.6 64.1,249.0 64.7,252.7 65.3,256.5 65.8,260.3 66.4,264.1 67.0,267.7 67.5,271.1 68.1,274.3 68.7,277.2 69.3,279.8 69.8,282.1 70.4,284.1 71.0,285.9 71.5,287.3 72.1,288.5 72.7,289.4 73.2,289.7 73.8,289.8 74.4,289.7 75.0,289.5 75.5,289.1 76.1,288.5 76.7,287.8 77.2,287.2 77.8,286.6 78.4,286.0 78.9,285.4 79.5,284.8 80.1,284.2 80.7,283.7 81.2,283.1 81.8,282.6 82.4,282.1 82.9,281.6 83.5,281.1 84.1,280.6 84.6,280.2 85.2,279.7 85.8,279.3 86.4,278.9 86.9,278.5 87.5,278.1 88.1,277.7 88.6,277.3 89.2,277.0 89.8,276.7 90.3,276.3 90.9,276.0 91.5,275.7 92.1,275.4 92.6,275.1 93.2,274.8 93.8,274.5 94.3,274.3 94.9,274.1 95.5,273.8 96.0,273.6 96.6,273.4 97.2,273.2 97.8,273.0 98.3,272.9 98.9,272.7 99.5,272.5 100.0,272.4 100.6,272.3 101.2,272.2 101.7,272.1 102.3,272.0 102.9,272.0 103.5,271.9 104.0,271.9 104.6,271.9 105.2,272.0 105.7,272.0 106.3,272.1 106.9,272.3 107.4,272.4 108.0,272.5 108.6,272.7 109.2,272.8 109.7,273.1 110.3,273.3 110.9,273.6 111.4,273.9 112.0,274.1 112.6,274.3 113.1,274.5 113.7,274.7 114.3,274.9 114.9,275.1 115.4,275.3 116.0,275.5 116.6,275.7 117.1,275.9 117.7,276.1 118.3,276.3 118.8,276.6 119.4,276.8 120.0,277.1 120.6,277.3 121.1,277.6 121.7,277.9 122.3,278.1 122.8,278.4 123.4,278.7 124.0,279.0 124.5,279.2 125.1,279.5 125.7,279.7 126.3,280.0 126.8,280.3 127.4,280.5 128.0,280.8 128.5,281.1 129.1,281.4 129.7,281.7 130.2,282.0 130.8,282.3 131.4,282.6 132.0,282.9 132.5,283.2 133.1,283.5 133.7,283.8 134.2,284.1 134.8,284.5 135.4,284.8 135.9,285.1 136.5,285.4 137.1,285.7 137.7,286.0 138.2,286.3 138.8,286.6 139.4,286.9 139.9,287.2 140.5,287.5 141.1,287.8 141.6,288.1 142.2,288.3 142.8,288.6 143.4,288.9 143.9,289.2 144.5,289.4 145.1,289.7 145.6,290.0 146.2,290.2 146.8,290.5 147.3,290.8 147.9,291.0 148.5,291.3 149.1,291.5 149.6,291.7 150.2,292.0 150.8,292.2 151.3,292.4 151.9,292.6 152.5,292.8 153.0,293.0 153.6,293.2 154.2,293.4 154.8,293.6 155.3,293.8 155.9,294.0 156.5,294.1 157.0,294.3 157.6,294.5 158.2,294.6 158.7,294.8 159.3,295.0 159.9,295.1 160.5,295.2 161.0,295.4 161.6,295.5 162.2,295.6 162.7,295.8 163.3,295.9 163.9,296.0 164.4,296.1 165.0,296.2 165.6,296.4 166.2,296.5 166.7,296.6 167.3,296.7 167.9,296.8 168.4,296.8 169.0,296.9 169.6,297.0 170.1,297.1 170.7,297.1 171.3,297.2 171.9,297.2 172.4,297.3 173.0,297.3 173.6,297.4 174.1,297.4 174.7,297.4 175.3,297.5 175.8,297.5 176.4,297.6 177.0,297.6 177.6,297.6 178.1,297.7 178.7,297.7 179.3,297.7 179.8,297.7 180.4,297.8 181.0,297.8 181.5,297.8 182.1,297.9 182.7,297.9 183.3,297.9 183.8,297.9 184.4,298.0 185.0,298.0 185.5,298.0 186.1,298.0 186.7,298.1 187.2,298.1 187.8,298.1 188.4,298.1 189.0,298.1 189.5,298.1 190.1,298.2 190.7,298.2 191.2,298.2 191.8,298.2 192.4,298.2 192.9,298.2 193.5,298.2 194.1,298.2 194.7,298.2 195.2,298.2 195.8,298.3 196.4,298.3 196.9,298.3 197.5,298.3 198.1,298.3 198.6,298.2 199.2,298.2 199.8,298.2 200.4,298.1 200.9,298.1 201.5,298.0 202.1,298.0 202.6,297.9 203.2,297.8 203.8,297.8 204.3,297.7 204.9,297.6 205.5,297.6 206.1,297.5 206.6,297.5 207.2,297.4 207.8,297.4 208.3,297.3 208.9,297.2 209.5,297.2 210.0,297.1 210.6,297.1 211.2,297.0 211.8,297.0 212.3,297.0 212.9,297.0 213.5,297.0 214.0,297.0 214.6,297.1 215.2,297.1 215.7,297.2 216.3,297.2 216.9,297.3 217.5,297.3 218.0,297.4 218.6,297.5 219.2,297.5 219.7,297.6 220.3,297.6 220.9,297.6 221.4,297.7 222.0,297.7 222.6,297.8 223.2,297.8 223.7,297.9 224.3,297.9 224.9,298.0 225.4,298.0 226.0,298.0 226.6,298.1 227.1,298.1 227.7,298.2 228.3,298.2 228.9,298.2 229.4,298.3 230.0,298.3 230.6,298.3 231.1,298.4 231.7,298.4 232.3,298.4 232.8,298.4 233.4,298.4 234.0,298.5 234.6,298.5 235.1,298.5 235.7,298.5 236.3,298.5 236.8,298.5 237.4,298.5 238.0,298.6 238.5,298.6 239.1,298.6 239.7,298.6 240.3,298.6 240.8,298.6 241.4,298.6 242.0,298.6 242.5,298.6 243.1,298.6 243.7,298.6 244.2,298.6 244.8,298.6 245.4,298.6 246.0,298.6 246.5,298.6 247.1,298.6 247.7,298.6 248.2,298.6 248.8,298.6 249.4,298.6 249.9,298.6 250.5,298.6 251.1,298.6 251.7,298.6 252.2,298.6 252.8,298.5 253.4,298.5 253.9,298.5 254.5,298.5" fill="none" stroke="#2e86d4" stroke-width="1.4" stroke-linejoin="round"/>
<path d="M37.9,291.4L38.5,290.9 39.0,290.4 39.6,290.0 40.2,289.5 40.8,289.1 41.3,288.7 41.9,288.3 42.5,287.8 43.0,287.4 43.6,287.0 44.2,286.5 44.7,286.0 45.3,285.5 45.9,285.0 46.5,284.5 47.0,283.8 47.6,283.0 48.2,282.0 48.7,280.9 49.3,279.6 49.9,278.0 50.4,276.3 51.0,274.3 51.6,272.0 52.2,269.4 52.7,266.5 53.3,263.3 53.9,259.9 54.4,256.3 55.0,252.6 55.6,248.8 56.1,245.2 56.7,241.7 57.3,238.6 57.9,235.9 58.4,233.8 59.0,232.2 59.6,231.2 60.1,231.0 60.7,231.5 61.3,232.6 61.8,234.5 62.4,237.0 63.0,240.1 63.6,243.5 64.1,247.4 64.7,251.4 65.3,255.6 65.8,259.8 66.4,263.8 67.0,267.7 67.5,271.3 68.1,274.7 68.7,277.7 69.3,280.4 69.8,282.7 70.4,284.7 71.0,286.5 71.5,287.9 72.1,289.1 72.7,289.8 73.2,290.1 73.8,290.1 74.4,290.0 75.0,289.7 75.5,289.2 76.1,288.6 76.7,287.9 77.2,287.3 77.8,286.6 78.4,286.0 78.9,285.4 79.5,284.8 80.1,284.3 80.7,283.7 81.2,283.1 81.8,282.6 82.4,282.1 82.9,281.6 83.5,281.1 84.1,280.6 84.6,280.2 85.2,279.7 85.8,279.3 86.4,278.9 86.9,278.5 87.5,278.1 88.1,277.7 88.6,277.3 89.2,277.0 89.8,276.7 90.3,276.3 90.9,276.0 91.5,275.7 92.1,275.4 92.6,275.1 93.2,274.8 93.8,274.5 94.3,274.3 94.9,274.1 95.5,273.8 96.0,273.6 96.6,273.4 97.2,273.2 97.8,273.0 98.3,272.9 98.9,272.7 99.5,272.5 100.0,272.4 100.6,272.3 101.2,272.2 101.7,272.1 102.3,272.0 102.9,272.0 103.5,271.9 104.0,271.9 104.6,271.9 105.2,272.0 105.7,272.0 106.3,272.1 106.9,272.3 107.4,272.4 108.0,272.5 108.6,272.7 109.2,272.8 109.7,273.1 110.3,273.3 110.9,273.6 111.4,273.9 112.0,274.1 112.6,274.3 113.1,274.5 113.7,274.7 114.3,274.9 114.9,275.1 115.4,275.3 116.0,275.5 116.6,275.7 117.1,275.9 117.7,276.1 118.3,276.3 118.8,276.6 119.4,276.8 120.0,277.1 120.6,277.3 121.1,277.6 121.7,277.9 122.3,278.1 122.8,278.4 123.4,278.7 124.0,279.0 124.5,279.2 125.1,279.5 125.7,279.7 126.3,280.0 126.8,280.3 127.4,280.5 128.0,280.8 128.5,281.1 129.1,281.4 129.7,281.7 130.2,282.0 130.8,282.3 131.4,282.6 132.0,282.9 132.5,283.2 133.1,283.5 133.7,283.8 134.2,284.1 134.8,284.5 135.4,284.8 135.9,285.1 136.5,285.4 137.1,285.7 137.7,286.0 138.2,286.3 138.8,286.6 139.4,286.9 139.9,287.2 140.5,287.5 141.1,287.8 141.6,288.1 142.2,288.3 142.8,288.6 143.4,288.9 143.9,289.2 144.5,289.4 145.1,289.7 145.6,290.0 146.2,290.2 146.8,290.5 147.3,290.8 147.9,291.0 148.5,291.3 149.1,291.5 149.6,291.7 150.2,292.0 150.8,292.2 151.3,292.4 151.9,292.6 152.5,292.8 153.0,293.0 153.6,293.2 154.2,293.4 154.8,293.6 155.3,293.8 155.9,294.0 156.5,294.1 157.0,294.3 157.6,294.5 158.2,294.6 158.7,294.8 159.3,295.0 159.9,295.1 160.5,295.2 161.0,295.4 161.6,295.5 162.2,295.6 162.7,295.8 163.3,295.9 163.9,296.0 164.4,296.1 165.0,296.2 165.6,296.4 166.2,296.5 166.7,296.6 167.3,296.7 167.9,296.8 168.4,296.8 169.0,296.9 169.6,297.0 170.1,297.1 170.7,297.1 171.3,297.2 171.9,297.2 172.4,297.3 173.0,297.3 173.6,297.4 174.1,297.4 174.7,297.4 175.3,297.5 175.8,297.5 176.4,297.6 177.0,297.6 177.6,297.6 178.1,297.7 178.7,297.7 179.3,297.7 179.8,297.7 180.4,297.8 181.0,297.8 181.5,297.8 182.1,297.9 182.7,297.9 183.3,297.9 183.8,297.9 184.4,298.0 185.0,298.0 185.5,298.0 186.1,298.0 186.7,298.1 187.2,298.1 187.8,298.1 188.4,298.1 189.0,298.1 189.5,298.1 190.1,298.2 190.7,298.2 191.2,298.2 191.8,298.2 192.4,298.2 192.9,298.2 193.5,298.2 194.1,298.2 194.7,298.2 195.2,298.2 195.8,298.3 196.4,298.3 196.9,298.3 197.5,298.3 198.1,298.3 198.6,298.2 199.2,298.2 199.8,298.2 200.4,298.1 200.9,298.1 201.5,298.0 202.1,298.0 202.6,297.9 203.2,297.8 203.8,297.8 204.3,297.7 204.9,297.6 205.5,297.6 206.1,297.5 206.6,297.5 207.2,297.4 207.8,297.4 208.3,297.3 208.9,297.2 209.5,297.2 210.0,297.1 210.6,297.1 211.2,297.0 211.8,297.0 212.3,297.0 212.9,297.0 213.5,297.0 214.0,297.0 214.6,297.1 215.2,297.1 215.7,297.2 216.3,297.2 216.9,297.3 217.5,297.3 218.0,297.4 218.6,297.5 219.2,297.5 219.7,297.6 220.3,297.6 220.9,297.6 221.4,297.7 222.0,297.7 222.6,297.8 223.2,297.8 223.7,297.9 224.3,297.9 224.9,298.0 225.4,298.0 226.0,298.0 226.6,298.1 227.1,298.1 227.7,298.2 228.3,298.2 228.9,298.2 229.4,298.3 230.0,298.3 230.6,298.3 231.1,298.4 231.7,298.4 232.3,298.4 232.8,298.4 233.4,298.4 234.0,298.5 234.6,298.5 235.1,298.5 235.7,298.5 236.3,298.5 236.8,298.5 237.4,298.5 238.0,298.6 238.5,298.6 239.1,298.6 239.7,298.6 240.3,298.6 240.8,298.6 241.4,298.6 242.0,298.6 242.5,298.6 243.1,298.6 243.7,298.6 244.2,298.6 244.8,298.6 245.4,298.6 246.0,298.6 246.5,298.6 247.1,298.6 247.7,298.6 248.2,298.6 248.8,298.6 249.4,298.6 249.9,298.6 250.5,298.6 251.1,298.6 251.7,298.6 252.2,298.6 252.8,298.5 253.4,298.5 253.9,298.5 254.5,298.5" fill="none" stroke="#f58a3c" stroke-width="1.0" stroke-linejoin="round" stroke-dasharray="0.9,0.95"/>
<path d="M37.9,291.4L38.5,290.9 39.0,290.4 39.6,289.9 40.2,289.5 40.8,289.0 41.3,288.5 41.9,288.1 42.5,287.6 43.0,287.2 43.6,286.6 44.2,286.1 44.7,285.5 45.3,284.9 45.9,284.3 46.5,283.6 47.0,282.8 47.6,281.9 48.2,280.9 48.7,279.7 49.3,278.4 49.9,277.0 50.4,275.4 51.0,273.6 51.6,271.7 52.2,269.6 52.7,267.4 53.3,265.0 53.9,262.5 54.4,259.9 55.0,257.3 55.6,254.6 56.1,252.1 56.7,249.7 57.3,247.6 57.9,245.7 58.4,244.2 59.0,243.0 59.6,242.3 60.1,241.9 60.7,242.0 61.3,242.6 61.8,243.6 62.4,245.1 63.0,246.9 63.6,249.2 64.1,251.7 64.7,254.4 65.3,257.3 65.8,260.3 66.4,263.4 67.0,266.4 67.5,269.3 68.1,272.1 68.7,274.7 69.3,277.2 69.8,279.5 70.4,281.6 71.0,283.4 71.5,285.1 72.1,286.5 72.7,287.5 73.2,288.1 73.8,288.4 74.4,288.5 75.0,288.5 75.5,288.2 76.1,287.8 76.7,287.3 77.2,286.7 77.8,286.2 78.4,285.7 78.9,285.2 79.5,284.7 80.1,284.1 80.7,283.6 81.2,283.1 81.8,282.5 82.4,282.0 82.9,281.5 83.5,281.1 84.1,280.6 84.6,280.1 85.2,279.7 85.8,279.3 86.4,278.9 86.9,278.5 87.5,278.1 88.1,277.7 88.6,277.3 89.2,277.0 89.8,276.7 90.3,276.3 90.9,276.0 91.5,275.7 92.1,275.4 92.6,275.1 93.2,274.8 93.8,274.5 94.3,274.3 94.9,274.1 95.5,273.8 96.0,273.6 96.6,273.4 97.2,273.2 97.8,273.0 98.3,272.9 98.9,272.7 99.5,272.5 100.0,272.4 100.6,272.3 101.2,272.2 101.7,272.1 102.3,272.0 102.9,272.0 103.5,271.9 104.0,271.9 104.6,271.9 105.2,272.0 105.7,272.0 106.3,272.1 106.9,272.3 107.4,272.4 108.0,272.5 108.6,272.7 109.2,272.8 109.7,273.1 110.3,273.3 110.9,273.6 111.4,273.9 112.0,274.1 112.6,274.3 113.1,274.5 113.7,274.7 114.3,274.9 114.9,275.1 115.4,275.3 116.0,275.5 116.6,275.7 117.1,275.9 117.7,276.1 118.3,276.3 118.8,276.6 119.4,276.8 120.0,277.1 120.6,277.3 121.1,277.6 121.7,277.9 122.3,278.1 122.8,278.4 123.4,278.7 124.0,279.0 124.5,279.2 125.1,279.5 125.7,279.7 126.3,280.0 126.8,280.3 127.4,280.5 128.0,280.8 128.5,281.1 129.1,281.4 129.7,281.7 130.2,282.0 130.8,282.3 131.4,282.6 132.0,282.9 132.5,283.2 133.1,283.5 133.7,283.8 134.2,284.1 134.8,284.5 135.4,284.8 135.9,285.1 136.5,285.4 137.1,285.7 137.7,286.0 138.2,286.3 138.8,286.6 139.4,286.9 139.9,287.2 140.5,287.5 141.1,287.8 141.6,288.1 142.2,288.3 142.8,288.6 143.4,288.9 143.9,289.2 144.5,289.4 145.1,289.7 145.6,290.0 146.2,290.2 146.8,290.5 147.3,290.8 147.9,291.0 148.5,291.3 149.1,291.5 149.6,291.7 150.2,292.0 150.8,292.2 151.3,292.4 151.9,292.6 152.5,292.8 153.0,293.0 153.6,293.2 154.2,293.4 154.8,293.6 155.3,293.8 155.9,294.0 156.5,294.1 157.0,294.3 157.6,294.5 158.2,294.6 158.7,294.8 159.3,295.0 159.9,295.1 160.5,295.2 161.0,295.4 161.6,295.5 162.2,295.6 162.7,295.8 163.3,295.9 163.9,296.0 164.4,296.1 165.0,296.2 165.6,296.4 166.2,296.5 166.7,296.6 167.3,296.7 167.9,296.8 168.4,296.8 169.0,296.9 169.6,297.0 170.1,297.1 170.7,297.1 171.3,297.2 171.9,297.2 172.4,297.3 173.0,297.3 173.6,297.4 174.1,297.4 174.7,297.4 175.3,297.5 175.8,297.5 176.4,297.6 177.0,297.6 177.6,297.6 178.1,297.7 178.7,297.7 179.3,297.7 179.8,297.7 180.4,297.8 181.0,297.8 181.5,297.8 182.1,297.9 182.7,297.9 183.3,297.9 183.8,297.9 184.4,298.0 185.0,298.0 185.5,298.0 186.1,298.0 186.7,298.1 187.2,298.1 187.8,298.1 188.4,298.1 189.0,298.1 189.5,298.1 190.1,298.2 190.7,298.2 191.2,298.2 191.8,298.2 192.4,298.2 192.9,298.2 193.5,298.2 194.1,298.2 194.7,298.2 195.2,298.2 195.8,298.3 196.4,298.3 196.9,298.3 197.5,298.3 198.1,298.3 198.6,298.2 199.2,298.2 199.8,298.2 200.4,298.1 200.9,298.1 201.5,298.0 202.1,298.0 202.6,297.9 203.2,297.8 203.8,297.8 204.3,297.7 204.9,297.6 205.5,297.6 206.1,297.5 206.6,297.5 207.2,297.4 207.8,297.4 208.3,297.3 208.9,297.2 209.5,297.2 210.0,297.1 210.6,297.1 211.2,297.0 211.8,297.0 212.3,297.0 212.9,297.0 213.5,297.0 214.0,297.0 214.6,297.1 215.2,297.1 215.7,297.2 216.3,297.2 216.9,297.3 217.5,297.3 218.0,297.4 218.6,297.5 219.2,297.5 219.7,297.6 220.3,297.6 220.9,297.6 221.4,297.7 222.0,297.7 222.6,297.8 223.2,297.8 223.7,297.9 224.3,297.9 224.9,298.0 225.4,298.0 226.0,298.0 226.6,298.1 227.1,298.1 227.7,298.2 228.3,298.2 228.9,298.2 229.4,298.3 230.0,298.3 230.6,298.3 231.1,298.4 231.7,298.4 232.3,298.4 232.8,298.4 233.4,298.4 234.0,298.5 234.6,298.5 235.1,298.5 235.7,298.5 236.3,298.5 236.8,298.5 237.4,298.5 238.0,298.6 238.5,298.6 239.1,298.6 239.7,298.6 240.3,298.6 240.8,298.6 241.4,298.6 242.0,298.6 242.5,298.6 243.1,298.6 243.7,298.6 244.2,298.6 244.8,298.6 245.4,298.6 246.0,298.6 246.5,298.6 247.1,298.6 247.7,298.6 248.2,298.6 248.8,298.6 249.4,298.6 249.9,298.6 250.5,298.6 251.1,298.6 251.7,298.6 252.2,298.6 252.8,298.5 253.4,298.5 253.9,298.5 254.5,298.5" fill="none" stroke="#f58a3c" stroke-width="1.25" stroke-linejoin="round" stroke-dasharray="3.5,2.8" stroke-dashoffset="1.5"/>
<path d="M37.9,291.4L38.5,290.9 39.0,290.4 39.6,290.0 40.2,289.5 40.8,289.1 41.3,288.7 41.9,288.3 42.5,287.9 43.0,287.5 43.6,287.1 44.2,286.6 44.7,286.2 45.3,285.8 45.9,285.3 46.5,284.8 47.0,284.2 47.6,283.5 48.2,282.6 48.7,281.6 49.3,280.3 49.9,278.8 50.4,277.1 51.0,275.1 51.6,272.7 52.2,270.0 52.7,266.9 53.3,263.6 53.9,259.8 54.4,255.9 55.0,251.7 55.6,247.5 56.1,243.4 56.7,239.4 57.3,235.8 57.9,232.7 58.4,230.1 59.0,228.2 59.6,227.1 60.1,226.8 60.7,227.3 61.3,228.6 61.8,230.8 62.4,233.6 63.0,237.1 63.6,241.1 64.1,245.4 64.7,249.9 65.3,254.6 65.8,259.2 66.4,263.6 67.0,267.8 67.5,271.7 68.1,275.2 68.7,278.4 69.3,281.2 69.8,283.5 70.4,285.6 71.0,287.3 71.5,288.8 72.1,290.1 72.7,291.0 73.2,291.5 73.8,291.6 74.4,291.5 75.0,291.1 75.5,290.4 76.1,289.5 76.7,288.5 77.2,287.6 77.8,286.8 78.4,286.1 78.9,285.5 79.5,284.9 80.1,284.3 80.7,283.7 81.2,283.1 81.8,282.6 82.4,282.1 82.9,281.6 83.5,281.1 84.1,280.6 84.6,280.2 85.2,279.7 85.8,279.3 86.4,278.9 86.9,278.5 87.5,278.1 88.1,277.7 88.6,277.3 89.2,277.0 89.8,276.7 90.3,276.3 90.9,276.0 91.5,275.7 92.1,275.4 92.6,275.1 93.2,274.8 93.8,274.5 94.3,274.3 94.9,274.1 95.5,273.8 96.0,273.6 96.6,273.4 97.2,273.2 97.8,273.0 98.3,272.9 98.9,272.7 99.5,272.5 100.0,272.4 100.6,272.3 101.2,272.2 101.7,272.1 102.3,272.0 102.9,272.0 103.5,271.9 104.0,271.9 104.6,271.9 105.2,272.0 105.7,272.0 106.3,272.1 106.9,272.3 107.4,272.4 108.0,272.5 108.6,272.7 109.2,272.8 109.7,273.1 110.3,273.3 110.9,273.6 111.4,273.9 112.0,274.1 112.6,274.3 113.1,274.5 113.7,274.7 114.3,274.9 114.9,275.1 115.4,275.3 116.0,275.5 116.6,275.7 117.1,275.9 117.7,276.1 118.3,276.3 118.8,276.6 119.4,276.8 120.0,277.1 120.6,277.3 121.1,277.6 121.7,277.9 122.3,278.1 122.8,278.4 123.4,278.7 124.0,279.0 124.5,279.2 125.1,279.5 125.7,279.7 126.3,280.0 126.8,280.3 127.4,280.5 128.0,280.8 128.5,281.1 129.1,281.4 129.7,281.7 130.2,282.0 130.8,282.3 131.4,282.6 132.0,282.9 132.5,283.2 133.1,283.5 133.7,283.8 134.2,284.1 134.8,284.5 135.4,284.8 135.9,285.1 136.5,285.4 137.1,285.7 137.7,286.0 138.2,286.3 138.8,286.6 139.4,286.9 139.9,287.2 140.5,287.5 141.1,287.8 141.6,288.1 142.2,288.3 142.8,288.6 143.4,288.9 143.9,289.2 144.5,289.4 145.1,289.7 145.6,290.0 146.2,290.2 146.8,290.5 147.3,290.8 147.9,291.0 148.5,291.3 149.1,291.5 149.6,291.7 150.2,292.0 150.8,292.2 151.3,292.4 151.9,292.6 152.5,292.8 153.0,293.0 153.6,293.2 154.2,293.4 154.8,293.6 155.3,293.8 155.9,294.0 156.5,294.1 157.0,294.3 157.6,294.5 158.2,294.6 158.7,294.8 159.3,295.0 159.9,295.1 160.5,295.2 161.0,295.4 161.6,295.5 162.2,295.6 162.7,295.8 163.3,295.9 163.9,296.0 164.4,296.1 165.0,296.2 165.6,296.4 166.2,296.5 166.7,296.6 167.3,296.7 167.9,296.8 168.4,296.8 169.0,296.9 169.6,297.0 170.1,297.1 170.7,297.1 171.3,297.2 171.9,297.2 172.4,297.3 173.0,297.3 173.6,297.4 174.1,297.4 174.7,297.4 175.3,297.5 175.8,297.5 176.4,297.6 177.0,297.6 177.6,297.6 178.1,297.7 178.7,297.7 179.3,297.7 179.8,297.7 180.4,297.8 181.0,297.8 181.5,297.8 182.1,297.9 182.7,297.9 183.3,297.9 183.8,297.9 184.4,298.0 185.0,298.0 185.5,298.0 186.1,298.0 186.7,298.1 187.2,298.1 187.8,298.1 188.4,298.1 189.0,298.1 189.5,298.1 190.1,298.2 190.7,298.2 191.2,298.2 191.8,298.2 192.4,298.2 192.9,298.2 193.5,298.2 194.1,298.2 194.7,298.2 195.2,298.2 195.8,298.3 196.4,298.3 196.9,298.3 197.5,298.3 198.1,298.3 198.6,298.2 199.2,298.2 199.8,298.2 200.4,298.1 200.9,298.1 201.5,298.0 202.1,298.0 202.6,297.9 203.2,297.8 203.8,297.8 204.3,297.7 204.9,297.6 205.5,297.6 206.1,297.5 206.6,297.5 207.2,297.4 207.8,297.4 208.3,297.3 208.9,297.2 209.5,297.2 210.0,297.1 210.6,297.1 211.2,297.0 211.8,297.0 212.3,297.0 212.9,297.0 213.5,297.0 214.0,297.0 214.6,297.1 215.2,297.1 215.7,297.2 216.3,297.2 216.9,297.3 217.5,297.3 218.0,297.4 218.6,297.5 219.2,297.5 219.7,297.6 220.3,297.6 220.9,297.6 221.4,297.7 222.0,297.7 222.6,297.8 223.2,297.8 223.7,297.9 224.3,297.9 224.9,298.0 225.4,298.0 226.0,298.0 226.6,298.1 227.1,298.1 227.7,298.2 228.3,298.2 228.9,298.2 229.4,298.3 230.0,298.3 230.6,298.3 231.1,298.4 231.7,298.4 232.3,298.4 232.8,298.4 233.4,298.4 234.0,298.5 234.6,298.5 235.1,298.5 235.7,298.5 236.3,298.5 236.8,298.5 237.4,298.5 238.0,298.6 238.5,298.6 239.1,298.6 239.7,298.6 240.3,298.6 240.8,298.6 241.4,298.6 242.0,298.6 242.5,298.6 243.1,298.6 243.7,298.6 244.2,298.6 244.8,298.6 245.4,298.6 246.0,298.6 246.5,298.6 247.1,298.6 247.7,298.6 248.2,298.6 248.8,298.6 249.4,298.6 249.9,298.6 250.5,298.6 251.1,298.6 251.7,298.6 252.2,298.6 252.8,298.5 253.4,298.5 253.9,298.5 254.5,298.5" fill="none" stroke="#f01818" stroke-width="1.0" stroke-linejoin="round" stroke-dasharray="0.9,0.95"/>
<path d="M37.9,291.4L38.5,290.9 39.0,290.4 39.6,289.9 40.2,289.4 40.8,288.9 41.3,288.5 41.9,288.0 42.5,287.5 43.0,287.0 43.6,286.5 44.2,285.9 44.7,285.3 45.3,284.7 45.9,284.1 46.5,283.4 47.0,282.6 47.6,281.7 48.2,280.8 48.7,279.6 49.3,278.4 49.9,277.1 50.4,275.7 51.0,274.1 51.6,272.4 52.2,270.6 52.7,268.7 53.3,266.6 53.9,264.5 54.4,262.3 55.0,260.0 55.6,257.8 56.1,255.6 56.7,253.6 57.3,251.7 57.9,250.1 58.4,248.7 59.0,247.6 59.6,246.8 60.1,246.4 60.7,246.3 61.3,246.5 61.8,247.2 62.4,248.2 63.0,249.6 63.6,251.3 64.1,253.2 64.7,255.5 65.3,257.8 65.8,260.4 66.4,262.9 67.0,265.6 67.5,268.2 68.1,270.7 68.7,273.2 69.3,275.5 69.8,277.7 70.4,279.7 71.0,281.5 71.5,283.1 72.1,284.4 72.7,285.3 73.2,285.8 73.8,286.0 74.4,286.2 75.0,286.4 75.5,286.5 76.1,286.4 76.7,286.3 77.2,286.0 77.8,285.7 78.4,285.3 78.9,284.9 79.5,284.5 80.1,284.0 80.7,283.5 81.2,283.0 81.8,282.5 82.4,282.0 82.9,281.5 83.5,281.0 84.1,280.6 84.6,280.1 85.2,279.7 85.8,279.3 86.4,278.9 86.9,278.5 87.5,278.1 88.1,277.7 88.6,277.3 89.2,277.0 89.8,276.7 90.3,276.3 90.9,276.0 91.5,275.7 92.1,275.4 92.6,275.1 93.2,274.8 93.8,274.5 94.3,274.3 94.9,274.1 95.5,273.8 96.0,273.6 96.6,273.4 97.2,273.2 97.8,273.0 98.3,272.9 98.9,272.7 99.5,272.5 100.0,272.4 100.6,272.3 101.2,272.2 101.7,272.1 102.3,272.0 102.9,272.0 103.5,271.9 104.0,271.9 104.6,271.9 105.2,272.0 105.7,272.0 106.3,272.1 106.9,272.3 107.4,272.4 108.0,272.5 108.6,272.7 109.2,272.8 109.7,273.1 110.3,273.3 110.9,273.6 111.4,273.9 112.0,274.1 112.6,274.3 113.1,274.5 113.7,274.7 114.3,274.9 114.9,275.1 115.4,275.3 116.0,275.5 116.6,275.7 117.1,275.9 117.7,276.1 118.3,276.3 118.8,276.6 119.4,276.8 120.0,277.1 120.6,277.3 121.1,277.6 121.7,277.9 122.3,278.1 122.8,278.4 123.4,278.7 124.0,279.0 124.5,279.2 125.1,279.5 125.7,279.7 126.3,280.0 126.8,280.3 127.4,280.5 128.0,280.8 128.5,281.1 129.1,281.4 129.7,281.7 130.2,282.0 130.8,282.3 131.4,282.6 132.0,282.9 132.5,283.2 133.1,283.5 133.7,283.8 134.2,284.1 134.8,284.5 135.4,284.8 135.9,285.1 136.5,285.4 137.1,285.7 137.7,286.0 138.2,286.3 138.8,286.6 139.4,286.9 139.9,287.2 140.5,287.5 141.1,287.8 141.6,288.1 142.2,288.3 142.8,288.6 143.4,288.9 143.9,289.2 144.5,289.4 145.1,289.7 145.6,290.0 146.2,290.2 146.8,290.5 147.3,290.8 147.9,291.0 148.5,291.3 149.1,291.5 149.6,291.7 150.2,292.0 150.8,292.2 151.3,292.4 151.9,292.6 152.5,292.8 153.0,293.0 153.6,293.2 154.2,293.4 154.8,293.6 155.3,293.8 155.9,294.0 156.5,294.1 157.0,294.3 157.6,294.5 158.2,294.6 158.7,294.8 159.3,295.0 159.9,295.1 160.5,295.2 161.0,295.4 161.6,295.5 162.2,295.6 162.7,295.8 163.3,295.9 163.9,296.0 164.4,296.1 165.0,296.2 165.6,296.4 166.2,296.5 166.7,296.6 167.3,296.7 167.9,296.8 168.4,296.8 169.0,296.9 169.6,297.0 170.1,297.1 170.7,297.1 171.3,297.2 171.9,297.2 172.4,297.3 173.0,297.3 173.6,297.4 174.1,297.4 174.7,297.4 175.3,297.5 175.8,297.5 176.4,297.6 177.0,297.6 177.6,297.6 178.1,297.7 178.7,297.7 179.3,297.7 179.8,297.7 180.4,297.8 181.0,297.8 181.5,297.8 182.1,297.9 182.7,297.9 183.3,297.9 183.8,297.9 184.4,298.0 185.0,298.0 185.5,298.0 186.1,298.0 186.7,298.1 187.2,298.1 187.8,298.1 188.4,298.1 189.0,298.1 189.5,298.1 190.1,298.2 190.7,298.2 191.2,298.2 191.8,298.2 192.4,298.2 192.9,298.2 193.5,298.2 194.1,298.2 194.7,298.2 195.2,298.2 195.8,298.3 196.4,298.3 196.9,298.3 197.5,298.3 198.1,298.3 198.6,298.2 199.2,298.2 199.8,298.2 200.4,298.1 200.9,298.1 201.5,298.0 202.1,298.0 202.6,297.9 203.2,297.8 203.8,297.8 204.3,297.7 204.9,297.6 205.5,297.6 206.1,297.5 206.6,297.5 207.2,297.4 207.8,297.4 208.3,297.3 208.9,297.2 209.5,297.2 210.0,297.1 210.6,297.1 211.2,297.0 211.8,297.0 212.3,297.0 212.9,297.0 213.5,297.0 214.0,297.0 214.6,297.1 215.2,297.1 215.7,297.2 216.3,297.2 216.9,297.3 217.5,297.3 218.0,297.4 218.6,297.5 219.2,297.5 219.7,297.6 220.3,297.6 220.9,297.6 221.4,297.7 222.0,297.7 222.6,297.8 223.2,297.8 223.7,297.9 224.3,297.9 224.9,298.0 225.4,298.0 226.0,298.0 226.6,298.1 227.1,298.1 227.7,298.2 228.3,298.2 228.9,298.2 229.4,298.3 230.0,298.3 230.6,298.3 231.1,298.4 231.7,298.4 232.3,298.4 232.8,298.4 233.4,298.4 234.0,298.5 234.6,298.5 235.1,298.5 235.7,298.5 236.3,298.5 236.8,298.5 237.4,298.5 238.0,298.6 238.5,298.6 239.1,298.6 239.7,298.6 240.3,298.6 240.8,298.6 241.4,298.6 242.0,298.6 242.5,298.6 243.1,298.6 243.7,298.6 244.2,298.6 244.8,298.6 245.4,298.6 246.0,298.6 246.5,298.6 247.1,298.6 247.7,298.6 248.2,298.6 248.8,298.6 249.4,298.6 249.9,298.6 250.5,298.6 251.1,298.6 251.7,298.6 252.2,298.6 252.8,298.5 253.4,298.5 253.9,298.5 254.5,298.5" fill="none" stroke="#f01818" stroke-width="1.25" stroke-linejoin="round" stroke-dasharray="3.5,2.8" stroke-dashoffset="3.0"/>
<path d="M37.9,291.4L38.5,290.9 39.0,290.4 39.6,290.0 40.2,289.5 40.8,289.1 41.3,288.7 41.9,288.3 42.5,287.9 43.0,287.6 43.6,287.2 44.2,286.7 44.7,286.3 45.3,285.9 45.9,285.6 46.5,285.1 47.0,284.6 47.6,284.0 48.2,283.2 48.7,282.3 49.3,281.1 49.9,279.7 50.4,278.0 51.0,276.0 51.6,273.7 52.2,270.9 52.7,267.7 53.3,264.0 53.9,260.0 54.4,255.6 55.0,250.9 55.6,246.1 56.1,241.4 56.7,236.8 57.3,232.6 57.9,228.9 58.4,225.8 59.0,223.5 59.6,222.1 60.1,221.7 60.7,222.2 61.3,223.8 61.8,226.2 62.4,229.6 63.0,233.6 63.6,238.2 64.1,243.2 64.7,248.3 65.3,253.6 65.8,258.7 66.4,263.6 67.0,268.2 67.5,272.3 68.1,276.1 68.7,279.3 69.3,282.1 69.8,284.5 70.4,286.6 71.0,288.4 71.5,289.9 72.1,291.4 72.7,292.6 73.2,293.3 73.8,293.7 74.4,293.6 75.0,293.0 75.5,291.9 76.1,290.6 76.7,289.2 77.2,288.0 77.8,287.0 78.4,286.2 78.9,285.5 79.5,284.9 80.1,284.3 80.7,283.7 81.2,283.1 81.8,282.6 82.4,282.1 82.9,281.6 83.5,281.1 84.1,280.6 84.6,280.2 85.2,279.7 85.8,279.3 86.4,278.9 86.9,278.5 87.5,278.1 88.1,277.7 88.6,277.3 89.2,277.0 89.8,276.7 90.3,276.3 90.9,276.0 91.5,275.7 92.1,275.4 92.6,275.1 93.2,274.8 93.8,274.5 94.3,274.3 94.9,274.1 95.5,273.8 96.0,273.6 96.6,273.4 97.2,273.2 97.8,273.0 98.3,272.9 98.9,272.7 99.5,272.5 100.0,272.4 100.6,272.3 101.2,272.2 101.7,272.1 102.3,272.0 102.9,272.0 103.5,271.9 104.0,271.9 104.6,271.9 105.2,272.0 105.7,272.0 106.3,272.1 106.9,272.3 107.4,272.4 108.0,272.5 108.6,272.7 109.2,272.8 109.7,273.1 110.3,273.3 110.9,273.6 111.4,273.9 112.0,274.1 112.6,274.3 113.1,274.5 113.7,274.7 114.3,274.9 114.9,275.1 115.4,275.3 116.0,275.5 116.6,275.7 117.1,275.9 117.7,276.1 118.3,276.3 118.8,276.6 119.4,276.8 120.0,277.1 120.6,277.3 121.1,277.6 121.7,277.9 122.3,278.1 122.8,278.4 123.4,278.7 124.0,279.0 124.5,279.2 125.1,279.5 125.7,279.7 126.3,280.0 126.8,280.3 127.4,280.5 128.0,280.8 128.5,281.1 129.1,281.4 129.7,281.7 130.2,282.0 130.8,282.3 131.4,282.6 132.0,282.9 132.5,283.2 133.1,283.5 133.7,283.8 134.2,284.1 134.8,284.5 135.4,284.8 135.9,285.1 136.5,285.4 137.1,285.7 137.7,286.0 138.2,286.3 138.8,286.6 139.4,286.9 139.9,287.2 140.5,287.5 141.1,287.8 141.6,288.1 142.2,288.3 142.8,288.6 143.4,288.9 143.9,289.2 144.5,289.4 145.1,289.7 145.6,290.0 146.2,290.2 146.8,290.5 147.3,290.8 147.9,291.0 148.5,291.3 149.1,291.5 149.6,291.7 150.2,292.0 150.8,292.2 151.3,292.4 151.9,292.6 152.5,292.8 153.0,293.0 153.6,293.2 154.2,293.4 154.8,293.6 155.3,293.8 155.9,294.0 156.5,294.1 157.0,294.3 157.6,294.5 158.2,294.6 158.7,294.8 159.3,295.0 159.9,295.1 160.5,295.2 161.0,295.4 161.6,295.5 162.2,295.6 162.7,295.8 163.3,295.9 163.9,296.0 164.4,296.1 165.0,296.2 165.6,296.4 166.2,296.5 166.7,296.6 167.3,296.7 167.9,296.8 168.4,296.8 169.0,296.9 169.6,297.0 170.1,297.1 170.7,297.1 171.3,297.2 171.9,297.2 172.4,297.3 173.0,297.3 173.6,297.4 174.1,297.4 174.7,297.4 175.3,297.5 175.8,297.5 176.4,297.6 177.0,297.6 177.6,297.6 178.1,297.7 178.7,297.7 179.3,297.7 179.8,297.7 180.4,297.8 181.0,297.8 181.5,297.8 182.1,297.9 182.7,297.9 183.3,297.9 183.8,297.9 184.4,298.0 185.0,298.0 185.5,298.0 186.1,298.0 186.7,298.1 187.2,298.1 187.8,298.1 188.4,298.1 189.0,298.1 189.5,298.1 190.1,298.2 190.7,298.2 191.2,298.2 191.8,298.2 192.4,298.2 192.9,298.2 193.5,298.2 194.1,298.2 194.7,298.2 195.2,298.2 195.8,298.3 196.4,298.3 196.9,298.3 197.5,298.3 198.1,298.3 198.6,298.2 199.2,298.2 199.8,298.2 200.4,298.1 200.9,298.1 201.5,298.0 202.1,298.0 202.6,297.9 203.2,297.8 203.8,297.8 204.3,297.7 204.9,297.6 205.5,297.6 206.1,297.5 206.6,297.5 207.2,297.4 207.8,297.4 208.3,297.3 208.9,297.2 209.5,297.2 210.0,297.1 210.6,297.1 211.2,297.0 211.8,297.0 212.3,297.0 212.9,297.0 213.5,297.0 214.0,297.0 214.6,297.1 215.2,297.1 215.7,297.2 216.3,297.2 216.9,297.3 217.5,297.3 218.0,297.4 218.6,297.5 219.2,297.5 219.7,297.6 220.3,297.6 220.9,297.6 221.4,297.7 222.0,297.7 222.6,297.8 223.2,297.8 223.7,297.9 224.3,297.9 224.9,298.0 225.4,298.0 226.0,298.0 226.6,298.1 227.1,298.1 227.7,298.2 228.3,298.2 228.9,298.2 229.4,298.3 230.0,298.3 230.6,298.3 231.1,298.4 231.7,298.4 232.3,298.4 232.8,298.4 233.4,298.4 234.0,298.5 234.6,298.5 235.1,298.5 235.7,298.5 236.3,298.5 236.8,298.5 237.4,298.5 238.0,298.6 238.5,298.6 239.1,298.6 239.7,298.6 240.3,298.6 240.8,298.6 241.4,298.6 242.0,298.6 242.5,298.6 243.1,298.6 243.7,298.6 244.2,298.6 244.8,298.6 245.4,298.6 246.0,298.6 246.5,298.6 247.1,298.6 247.7,298.6 248.2,298.6 248.8,298.6 249.4,298.6 249.9,298.6 250.5,298.6 251.1,298.6 251.7,298.6 252.2,298.6 252.8,298.5 253.4,298.5 253.9,298.5 254.5,298.5" fill="none" stroke="#76d42c" stroke-width="1.0" stroke-linejoin="round" stroke-dasharray="0.9,0.95"/>
<path d="M37.9,291.4L38.5,290.8 39.0,290.3 39.6,289.8 40.2,289.4 40.8,288.9 41.3,288.4 41.9,287.9 42.5,287.4 43.0,286.9 43.6,286.3 44.2,285.7 44.7,285.1 45.3,284.5 45.9,283.8 46.5,283.1 47.0,282.4 47.6,281.5 48.2,280.5 48.7,279.5 49.3,278.4 49.9,277.1 50.4,275.9 51.0,274.5 51.6,273.0 52.2,271.5 52.7,269.8 53.3,268.1 53.9,266.3 54.4,264.5 55.0,262.6 55.6,260.7 56.1,258.9 56.7,257.2 57.3,255.6 57.9,254.2 58.4,253.0 59.0,252.1 59.6,251.3 60.1,250.8 60.7,250.6 61.3,250.7 61.8,251.1 62.4,251.7 63.0,252.7 63.6,254.0 64.1,255.5 64.7,257.2 65.3,259.1 65.8,261.1 66.4,263.3 67.0,265.4 67.5,267.7 68.1,269.9 68.7,272.1 69.3,274.2 69.8,276.2 70.4,278.1 71.0,279.8 71.5,281.3 72.1,282.6 72.7,283.4 73.2,283.8 73.8,284.1 74.4,284.4 75.0,284.7 75.5,285.0 76.1,285.2 76.7,285.3 77.2,285.2 77.8,285.1 78.4,284.8 78.9,284.5 79.5,284.1 80.1,283.7 80.7,283.3 81.2,282.8 81.8,282.3 82.4,281.9 82.9,281.4 83.5,281.0 84.1,280.5 84.6,280.1 85.2,279.7 85.8,279.3 86.4,278.8 86.9,278.5 87.5,278.1 88.1,277.7 88.6,277.3 89.2,277.0 89.8,276.7 90.3,276.3 90.9,276.0 91.5,275.7 92.1,275.4 92.6,275.1 93.2,274.8 93.8,274.5 94.3,274.3 94.9,274.1 95.5,273.8 96.0,273.6 96.6,273.4 97.2,273.2 97.8,273.0 98.3,272.9 98.9,272.7 99.5,272.5 100.0,272.4 100.6,272.3 101.2,272.2 101.7,272.1 102.3,272.0 102.9,272.0 103.5,271.9 104.0,271.9 104.6,271.9 105.2,272.0 105.7,272.0 106.3,272.1 106.9,272.3 107.4,272.4 108.0,272.5 108.6,272.7 109.2,272.8 109.7,273.1 110.3,273.3 110.9,273.6 111.4,273.9 112.0,274.1 112.6,274.3 113.1,274.5 113.7,274.7 114.3,274.9 114.9,275.1 115.4,275.3 116.0,275.5 116.6,275.7 117.1,275.9 117.7,276.1 118.3,276.3 118.8,276.6 119.4,276.8 120.0,277.1 120.6,277.3 121.1,277.6 121.7,277.9 122.3,278.1 122.8,278.4 123.4,278.7 124.0,279.0 124.5,279.2 125.1,279.5 125.7,279.7 126.3,280.0 126.8,280.3 127.4,280.5 128.0,280.8 128.5,281.1 129.1,281.4 129.7,281.7 130.2,282.0 130.8,282.3 131.4,282.6 132.0,282.9 132.5,283.2 133.1,283.5 133.7,283.8 134.2,284.1 134.8,284.5 135.4,284.8 135.9,285.1 136.5,285.4 137.1,285.7 137.7,286.0 138.2,286.3 138.8,286.6 139.4,286.9 139.9,287.2 140.5,287.5 141.1,287.8 141.6,288.1 142.2,288.3 142.8,288.6 143.4,288.9 143.9,289.2 144.5,289.4 145.1,289.7 145.6,290.0 146.2,290.2 146.8,290.5 147.3,290.8 147.9,291.0 148.5,291.3 149.1,291.5 149.6,291.7 150.2,292.0 150.8,292.2 151.3,292.4 151.9,292.6 152.5,292.8 153.0,293.0 153.6,293.2 154.2,293.4 154.8,293.6 155.3,293.8 155.9,294.0 156.5,294.1 157.0,294.3 157.6,294.5 158.2,294.6 158.7,294.8 159.3,295.0 159.9,295.1 160.5,295.2 161.0,295.4 161.6,295.5 162.2,295.6 162.7,295.8 163.3,295.9 163.9,296.0 164.4,296.1 165.0,296.2 165.6,296.4 166.2,296.5 166.7,296.6 167.3,296.7 167.9,296.8 168.4,296.8 169.0,296.9 169.6,297.0 170.1,297.1 170.7,297.1 171.3,297.2 171.9,297.2 172.4,297.3 173.0,297.3 173.6,297.4 174.1,297.4 174.7,297.4 175.3,297.5 175.8,297.5 176.4,297.6 177.0,297.6 177.6,297.6 178.1,297.7 178.7,297.7 179.3,297.7 179.8,297.7 180.4,297.8 181.0,297.8 181.5,297.8 182.1,297.9 182.7,297.9 183.3,297.9 183.8,297.9 184.4,298.0 185.0,298.0 185.5,298.0 186.1,298.0 186.7,298.1 187.2,298.1 187.8,298.1 188.4,298.1 189.0,298.1 189.5,298.1 190.1,298.2 190.7,298.2 191.2,298.2 191.8,298.2 192.4,298.2 192.9,298.2 193.5,298.2 194.1,298.2 194.7,298.2 195.2,298.2 195.8,298.3 196.4,298.3 196.9,298.3 197.5,298.3 198.1,298.3 198.6,298.2 199.2,298.2 199.8,298.2 200.4,298.1 200.9,298.1 201.5,298.0 202.1,298.0 202.6,297.9 203.2,297.8 203.8,297.8 204.3,297.7 204.9,297.6 205.5,297.6 206.1,297.5 206.6,297.5 207.2,297.4 207.8,297.4 208.3,297.3 208.9,297.2 209.5,297.2 210.0,297.1 210.6,297.1 211.2,297.0 211.8,297.0 212.3,297.0 212.9,297.0 213.5,297.0 214.0,297.0 214.6,297.1 215.2,297.1 215.7,297.2 216.3,297.2 216.9,297.3 217.5,297.3 218.0,297.4 218.6,297.5 219.2,297.5 219.7,297.6 220.3,297.6 220.9,297.6 221.4,297.7 222.0,297.7 222.6,297.8 223.2,297.8 223.7,297.9 224.3,297.9 224.9,298.0 225.4,298.0 226.0,298.0 226.6,298.1 227.1,298.1 227.7,298.2 228.3,298.2 228.9,298.2 229.4,298.3 230.0,298.3 230.6,298.3 231.1,298.4 231.7,298.4 232.3,298.4 232.8,298.4 233.4,298.4 234.0,298.5 234.6,298.5 235.1,298.5 235.7,298.5 236.3,298.5 236.8,298.5 237.4,298.5 238.0,298.6 238.5,298.6 239.1,298.6 239.7,298.6 240.3,298.6 240.8,298.6 241.4,298.6 242.0,298.6 242.5,298.6 243.1,298.6 243.7,298.6 244.2,298.6 244.8,298.6 245.4,298.6 246.0,298.6 246.5,298.6 247.1,298.6 247.7,298.6 248.2,298.6 248.8,298.6 249.4,298.6 249.9,298.6 250.5,298.6 251.1,298.6 251.7,298.6 252.2,298.6 252.8,298.5 253.4,298.5 253.9,298.5 254.5,298.5" fill="none" stroke="#76d42c" stroke-width="1.5" stroke-linejoin="round" stroke-dasharray="3.5,2.8" stroke-dashoffset="0"/>
<text x="128.50" y="343.60" font-size="11" text-anchor="middle" fill="#111" font-family='"Liberation Serif", serif' font-weight="bold">(c)</text>
</svg>
</body></html>
